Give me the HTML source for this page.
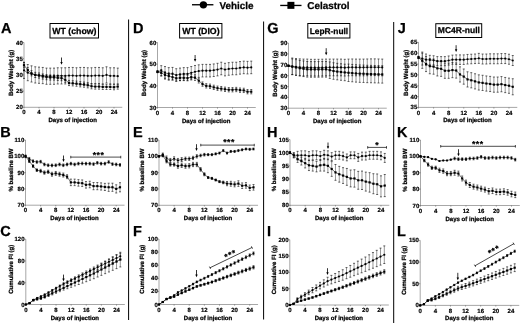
<!DOCTYPE html>
<html lang="en"><head><meta charset="utf-8"><title>Celastrol body weight and food intake</title>
<style>html,body{margin:0;padding:0;background:#fff}body{width:520px;height:323px;overflow:hidden}svg{display:block}</style>
</head><body>
<svg width="520" height="323" viewBox="0 0 520 323" font-family="'Liberation Sans', Arial, sans-serif" font-weight="bold" fill="#000" text-rendering="geometricPrecision">
<style>text{stroke:#000;stroke-width:0.25px;stroke-linejoin:round}.t text{stroke-width:0.18px}</style>
<rect width="520" height="323" fill="#fff"/>
<g stroke="#000" stroke-width="1.35"><line x1="192" y1="4.75" x2="213.4" y2="4.75"/><line x1="280.2" y1="5.45" x2="301.5" y2="5.45"/></g>
<circle cx="203.4" cy="4.85" r="3.7"/>
<rect x="287.4" y="1.85" width="7" height="7"/>
<text x="219.4" y="8.9" font-size="9.9">Vehicle</text>
<text x="307.3" y="9.1" font-size="9.9">Celastrol</text>
<g stroke="#000" stroke-width="1">
<line x1="128.6" y1="19.5" x2="128.6" y2="320"/>
<line x1="263.6" y1="21.5" x2="263.6" y2="319.5"/>
<line x1="393.7" y1="22" x2="393.7" y2="323"/>
</g>
<rect x="50" y="23.5" width="48.5" height="14.5" fill="#fff" stroke="#000" stroke-width="1"/>
<text x="74.35" y="33.6" font-size="8.75" text-anchor="middle">WT (chow)</text>
<rect x="179.6" y="23.5" width="42.3" height="14.5" fill="#fff" stroke="#000" stroke-width="1"/>
<text x="200.85" y="33.6" font-size="8.75" text-anchor="middle">WT (DIO)</text>
<rect x="307.8" y="23.5" width="42.1" height="14.5" fill="#fff" stroke="#000" stroke-width="1"/>
<text x="328.95" y="33.6" font-size="8.35" text-anchor="middle">LepR-null</text>
<rect x="435.8" y="23.7" width="45.9" height="13.8" fill="#fff" stroke="#000" stroke-width="1"/>
<text x="458.85" y="33.45" font-size="8.5" text-anchor="middle">MC4R-null</text>
<g id="panel-A">
<text x="1" y="33" font-size="14.5">A</text>
<path d="M24 42.5V107.3H122.25M24 107.3h-1.3M24 91.1h-1.3M24 74.9h-1.3M24 58.7h-1.3M24 42.5h-1.3M24 107.3v1.2M39 107.3v1.2M54 107.3v1.2M69 107.3v1.2M84 107.3v1.2M99 107.3v1.2M114 107.3v1.2" fill="none" stroke="#222" stroke-width="0.4"/>
<g class="t" font-size="6">
<text x="22.75" y="109.35" text-anchor="end">20</text>
<text x="22.75" y="93.15" text-anchor="end">25</text>
<text x="22.75" y="76.95" text-anchor="end">30</text>
<text x="22.75" y="60.75" text-anchor="end">35</text>
<text x="22.75" y="44.55" text-anchor="end">40</text>
<text x="24" y="114.4" text-anchor="middle">0</text>
<text x="39" y="114.4" text-anchor="middle">4</text>
<text x="54" y="114.4" text-anchor="middle">8</text>
<text x="69" y="114.4" text-anchor="middle">12</text>
<text x="84" y="114.4" text-anchor="middle">16</text>
<text x="99" y="114.4" text-anchor="middle">20</text>
<text x="114" y="114.4" text-anchor="middle">24</text>
</g>
<text x="72.67" y="122.3" font-size="6.05" text-anchor="middle">Days of injection</text>
<text transform="translate(12.9 72.9) rotate(-90)" font-size="6.05" text-anchor="middle">Body Weight (g)</text>
<path d="M24 62.26V78.46M27.75 64.53V80.73M31.5 65.83V82.03M35.25 66.8V83M39 67.12V83.32M42.75 67.45V83.65M46.5 68.1V84.3M50.25 68.1V84.3M54 68.1V84.3M57.75 67.77V83.97M61.5 67.77V83.97M65.25 67.77V83.97M69 67.45V83.65M72.75 67.45V83.65M76.5 67.77V83.97M80.25 67.45V83.65M84 67.45V83.65M87.75 67.77V83.97M91.5 67.77V83.97M95.25 67.45V83.65M99 67.45V83.65M102.75 67.77V83.97M106.5 66.8V83M110.25 67.77V83.97M114 67.77V83.97M117.75 68.1V84.3M24 62.59V67.77M27.75 67.45V72.63M31.5 70.69V75.87M35.25 72.31V77.49M39 72.96V78.14M42.75 73.93V79.11M46.5 74.58V79.76M50.25 74.9V80.08M54 74.9V80.08M57.75 75.22V80.41M61.5 75.55V80.73M65.25 77.17V82.35M69 80.41V85.59M72.75 80.73V85.92M76.5 81.06V86.24M80.25 81.7V86.89M84 82.03V87.21M87.75 82.68V87.86M91.5 83.65V88.83M95.25 83.97V89.16M99 83.97V89.16M102.75 84.3V89.48M106.5 84.3V89.48M110.25 84.3V89.48M114 84.62V89.8M117.75 83.97V89.16" fill="none" stroke="#000" stroke-width="0.42"/>
<path d="M23 62.26h2M23 78.46h2M26.75 64.53h2M26.75 80.73h2M30.5 65.83h2M30.5 82.03h2M34.25 66.8h2M34.25 83h2M38 67.12h2M38 83.32h2M41.75 67.45h2M41.75 83.65h2M45.5 68.1h2M45.5 84.3h2M49.25 68.1h2M49.25 84.3h2M53 68.1h2M53 84.3h2M56.75 67.77h2M56.75 83.97h2M60.5 67.77h2M60.5 83.97h2M64.25 67.77h2M64.25 83.97h2M68 67.45h2M68 83.65h2M71.75 67.45h2M71.75 83.65h2M75.5 67.77h2M75.5 83.97h2M79.25 67.45h2M79.25 83.65h2M83 67.45h2M83 83.65h2M86.75 67.77h2M86.75 83.97h2M90.5 67.77h2M90.5 83.97h2M94.25 67.45h2M94.25 83.65h2M98 67.45h2M98 83.65h2M101.75 67.77h2M101.75 83.97h2M105.5 66.8h2M105.5 83h2M109.25 67.77h2M109.25 83.97h2M113 67.77h2M113 83.97h2M116.75 68.1h2M116.75 84.3h2M23 62.59h2M23 67.77h2M26.75 67.45h2M26.75 72.63h2M30.5 70.69h2M30.5 75.87h2M34.25 72.31h2M34.25 77.49h2M38 72.96h2M38 78.14h2M41.75 73.93h2M41.75 79.11h2M45.5 74.58h2M45.5 79.76h2M49.25 74.9h2M49.25 80.08h2M53 74.9h2M53 80.08h2M56.75 75.22h2M56.75 80.41h2M60.5 75.55h2M60.5 80.73h2M64.25 77.17h2M64.25 82.35h2M68 80.41h2M68 85.59h2M71.75 80.73h2M71.75 85.92h2M75.5 81.06h2M75.5 86.24h2M79.25 81.7h2M79.25 86.89h2M83 82.03h2M83 87.21h2M86.75 82.68h2M86.75 87.86h2M90.5 83.65h2M90.5 88.83h2M94.25 83.97h2M94.25 89.16h2M98 83.97h2M98 89.16h2M101.75 84.3h2M101.75 89.48h2M105.5 84.3h2M105.5 89.48h2M109.25 84.3h2M109.25 89.48h2M113 84.62h2M113 89.8h2M116.75 83.97h2M116.75 89.16h2" fill="none" stroke="#000" stroke-width="0.6"/>
<polyline points="24,70.36 27.75,72.63 31.5,73.93 35.25,74.9 39,75.22 42.75,75.55 46.5,76.2 50.25,76.2 54,76.2 57.75,75.87 61.5,75.87 65.25,75.87 69,75.55 72.75,75.55 76.5,75.87 80.25,75.55 84,75.55 87.75,75.87 91.5,75.87 95.25,75.55 99,75.55 102.75,75.87 106.5,74.9 110.25,75.87 114,75.87 117.75,76.2" fill="none" stroke="#000" stroke-width="0.55"/>
<polyline points="24,65.18 27.75,70.04 31.5,73.28 35.25,74.9 39,75.55 42.75,76.52 46.5,77.17 50.25,77.49 54,77.49 57.75,77.82 61.5,78.14 65.25,79.76 69,83 72.75,83.32 76.5,83.65 80.25,84.3 84,84.62 87.75,85.27 91.5,86.24 95.25,86.56 99,86.56 102.75,86.89 106.5,86.89 110.25,86.89 114,87.21 117.75,86.56" fill="none" stroke="#000" stroke-width="0.55"/>
<circle cx="24" cy="70.36" r="1.08"/><circle cx="27.75" cy="72.63" r="1.08"/><circle cx="31.5" cy="73.93" r="1.08"/><circle cx="35.25" cy="74.9" r="1.08"/><circle cx="39" cy="75.22" r="1.08"/><circle cx="42.75" cy="75.55" r="1.08"/><circle cx="46.5" cy="76.2" r="1.08"/><circle cx="50.25" cy="76.2" r="1.08"/><circle cx="54" cy="76.2" r="1.08"/><circle cx="57.75" cy="75.87" r="1.08"/><circle cx="61.5" cy="75.87" r="1.08"/><circle cx="65.25" cy="75.87" r="1.08"/><circle cx="69" cy="75.55" r="1.08"/><circle cx="72.75" cy="75.55" r="1.08"/><circle cx="76.5" cy="75.87" r="1.08"/><circle cx="80.25" cy="75.55" r="1.08"/><circle cx="84" cy="75.55" r="1.08"/><circle cx="87.75" cy="75.87" r="1.08"/><circle cx="91.5" cy="75.87" r="1.08"/><circle cx="95.25" cy="75.55" r="1.08"/><circle cx="99" cy="75.55" r="1.08"/><circle cx="102.75" cy="75.87" r="1.08"/><circle cx="106.5" cy="74.9" r="1.08"/><circle cx="110.25" cy="75.87" r="1.08"/><circle cx="114" cy="75.87" r="1.08"/><circle cx="117.75" cy="76.2" r="1.08"/><rect x="22.93" y="64.11" width="2.15" height="2.15"/><rect x="26.68" y="68.96" width="2.15" height="2.15"/><rect x="30.43" y="72.2" width="2.15" height="2.15"/><rect x="34.17" y="73.83" width="2.15" height="2.15"/><rect x="37.92" y="74.47" width="2.15" height="2.15"/><rect x="41.67" y="75.44" width="2.15" height="2.15"/><rect x="45.42" y="76.09" width="2.15" height="2.15"/><rect x="49.17" y="76.42" width="2.15" height="2.15"/><rect x="52.92" y="76.42" width="2.15" height="2.15"/><rect x="56.67" y="76.74" width="2.15" height="2.15"/><rect x="60.42" y="77.06" width="2.15" height="2.15"/><rect x="64.17" y="78.68" width="2.15" height="2.15"/><rect x="67.92" y="81.92" width="2.15" height="2.15"/><rect x="71.67" y="82.25" width="2.15" height="2.15"/><rect x="75.42" y="82.57" width="2.15" height="2.15"/><rect x="79.17" y="83.22" width="2.15" height="2.15"/><rect x="82.92" y="83.55" width="2.15" height="2.15"/><rect x="86.67" y="84.19" width="2.15" height="2.15"/><rect x="90.42" y="85.16" width="2.15" height="2.15"/><rect x="94.17" y="85.49" width="2.15" height="2.15"/><rect x="97.92" y="85.49" width="2.15" height="2.15"/><rect x="101.67" y="85.81" width="2.15" height="2.15"/><rect x="105.42" y="85.81" width="2.15" height="2.15"/><rect x="109.17" y="85.81" width="2.15" height="2.15"/><rect x="112.92" y="86.14" width="2.15" height="2.15"/><rect x="116.67" y="85.49" width="2.15" height="2.15"/>
<path d="M61.5 57.5V63.2" stroke="#000" stroke-width="0.8" fill="none"/>
<path d="M60.3 61.9h2.4l-1.2 2.8z"/>
</g>
<g id="panel-B">
<text x="0.2" y="137" font-size="14.5">B</text>
<path d="M25.5 140V205.2H124.54M25.5 205.2h-1.3M25.5 188.9h-1.3M25.5 172.6h-1.3M25.5 156.3h-1.3M25.5 140h-1.3M25.5 205.2v1.2M40.62 205.2v1.2M55.74 205.2v1.2M70.86 205.2v1.2M85.98 205.2v1.2M101.1 205.2v1.2M116.22 205.2v1.2" fill="none" stroke="#222" stroke-width="0.4"/>
<g class="t" font-size="6">
<text x="24.25" y="207.25" text-anchor="end">70</text>
<text x="24.25" y="190.95" text-anchor="end">80</text>
<text x="24.25" y="174.65" text-anchor="end">90</text>
<text x="24.25" y="158.35" text-anchor="end">100</text>
<text x="24.25" y="142.05" text-anchor="end">110</text>
<text x="25.5" y="212.3" text-anchor="middle">0</text>
<text x="40.62" y="212.3" text-anchor="middle">4</text>
<text x="55.74" y="212.3" text-anchor="middle">8</text>
<text x="70.86" y="212.3" text-anchor="middle">12</text>
<text x="85.98" y="212.3" text-anchor="middle">16</text>
<text x="101.1" y="212.3" text-anchor="middle">20</text>
<text x="116.22" y="212.3" text-anchor="middle">24</text>
</g>
<text x="74.55" y="220.2" font-size="6.05" text-anchor="middle">Days of injection</text>
<text transform="translate(12.9 170) rotate(-90)" font-size="6.05" text-anchor="middle">% baseline BW</text>
<path d="M25.5 155V157.6M29.28 157.44V160.05M33.06 159.89V162.49M36.84 160.7V163.31M40.62 160.38V162.98M44.4 163.15V165.75M48.18 163.96V166.57M51.96 164.12V166.73M55.74 163.96V166.57M59.52 163.15V165.75M63.3 163.96V166.57M67.08 163.15V165.75M70.86 162.33V164.94M74.64 163.15V165.75M78.42 162.33V164.94M82.2 162.17V164.78M85.98 162.33V164.94M89.76 162.33V164.94M93.54 162.82V165.43M97.32 161.52V164.12M101.1 162.33V164.94M104.88 162.33V164.94M108.66 160.7V163.31M112.44 162.82V165.43M116.22 163.15V165.75M120 163.63V166.24M25.5 155.49V157.12M29.28 159.89V162.49M33.06 164.78V167.38M36.84 168.85V171.46M40.62 169.34V172.6M44.4 170.97V174.23M48.18 170.16V173.41M51.96 172.27V176.19M55.74 171.46V175.37M59.52 172.27V176.19M63.3 173.09V177M67.08 174.72V178.63M70.86 179.12V185.64M74.64 179.12V185.64M78.42 179.61V186.13M82.2 179.94V186.45M85.98 181.56V188.08M89.76 181.24V187.76M93.54 182.54V189.72M97.32 182.54V189.72M101.1 182.87V190.04M104.88 183.36V190.53M108.66 183.19V191.34M112.44 183.19V191.34M116.22 184.82V192.97M120 182.71V191.83" fill="none" stroke="#000" stroke-width="0.42"/>
<path d="M24.5 155h2M24.5 157.6h2M28.28 157.44h2M28.28 160.05h2M32.06 159.89h2M32.06 162.49h2M35.84 160.7h2M35.84 163.31h2M39.62 160.38h2M39.62 162.98h2M43.4 163.15h2M43.4 165.75h2M47.18 163.96h2M47.18 166.57h2M50.96 164.12h2M50.96 166.73h2M54.74 163.96h2M54.74 166.57h2M58.52 163.15h2M58.52 165.75h2M62.3 163.96h2M62.3 166.57h2M66.08 163.15h2M66.08 165.75h2M69.86 162.33h2M69.86 164.94h2M73.64 163.15h2M73.64 165.75h2M77.42 162.33h2M77.42 164.94h2M81.2 162.17h2M81.2 164.78h2M84.98 162.33h2M84.98 164.94h2M88.76 162.33h2M88.76 164.94h2M92.54 162.82h2M92.54 165.43h2M96.32 161.52h2M96.32 164.12h2M100.1 162.33h2M100.1 164.94h2M103.88 162.33h2M103.88 164.94h2M107.66 160.7h2M107.66 163.31h2M111.44 162.82h2M111.44 165.43h2M115.22 163.15h2M115.22 165.75h2M119 163.63h2M119 166.24h2M24.5 155.49h2M24.5 157.12h2M28.28 159.89h2M28.28 162.49h2M32.06 164.78h2M32.06 167.38h2M35.84 168.85h2M35.84 171.46h2M39.62 169.34h2M39.62 172.6h2M43.4 170.97h2M43.4 174.23h2M47.18 170.16h2M47.18 173.41h2M50.96 172.27h2M50.96 176.19h2M54.74 171.46h2M54.74 175.37h2M58.52 172.27h2M58.52 176.19h2M62.3 173.09h2M62.3 177h2M66.08 174.72h2M66.08 178.63h2M69.86 179.12h2M69.86 185.64h2M73.64 179.12h2M73.64 185.64h2M77.42 179.61h2M77.42 186.13h2M81.2 179.94h2M81.2 186.45h2M84.98 181.56h2M84.98 188.08h2M88.76 181.24h2M88.76 187.76h2M92.54 182.54h2M92.54 189.72h2M96.32 182.54h2M96.32 189.72h2M100.1 182.87h2M100.1 190.04h2M103.88 183.36h2M103.88 190.53h2M107.66 183.19h2M107.66 191.34h2M111.44 183.19h2M111.44 191.34h2M115.22 184.82h2M115.22 192.97h2M119 182.71h2M119 191.83h2" fill="none" stroke="#000" stroke-width="0.6"/>
<polyline points="25.5,156.3 29.28,158.75 33.06,161.19 36.84,162 40.62,161.68 44.4,164.45 48.18,165.26 51.96,165.43 55.74,165.26 59.52,164.45 63.3,165.26 67.08,164.45 70.86,163.63 74.64,164.45 78.42,163.63 82.2,163.47 85.98,163.63 89.76,163.63 93.54,164.12 97.32,162.82 101.1,163.63 104.88,163.63 108.66,162 112.44,164.12 116.22,164.45 120,164.94" fill="none" stroke="#000" stroke-width="0.55"/>
<polyline points="25.5,156.3 29.28,161.19 33.06,166.08 36.84,170.16 40.62,170.97 44.4,172.6 48.18,171.78 51.96,174.23 55.74,173.41 59.52,174.23 63.3,175.04 67.08,176.67 70.86,182.38 74.64,182.38 78.42,182.87 82.2,183.19 85.98,184.82 89.76,184.5 93.54,186.13 97.32,186.13 101.1,186.45 104.88,186.94 108.66,187.27 112.44,187.27 116.22,188.9 120,187.27" fill="none" stroke="#000" stroke-width="0.55"/>
<circle cx="25.5" cy="156.3" r="1.08"/><circle cx="29.28" cy="158.75" r="1.08"/><circle cx="33.06" cy="161.19" r="1.08"/><circle cx="36.84" cy="162" r="1.08"/><circle cx="40.62" cy="161.68" r="1.08"/><circle cx="44.4" cy="164.45" r="1.08"/><circle cx="48.18" cy="165.26" r="1.08"/><circle cx="51.96" cy="165.43" r="1.08"/><circle cx="55.74" cy="165.26" r="1.08"/><circle cx="59.52" cy="164.45" r="1.08"/><circle cx="63.3" cy="165.26" r="1.08"/><circle cx="67.08" cy="164.45" r="1.08"/><circle cx="70.86" cy="163.63" r="1.08"/><circle cx="74.64" cy="164.45" r="1.08"/><circle cx="78.42" cy="163.63" r="1.08"/><circle cx="82.2" cy="163.47" r="1.08"/><circle cx="85.98" cy="163.63" r="1.08"/><circle cx="89.76" cy="163.63" r="1.08"/><circle cx="93.54" cy="164.12" r="1.08"/><circle cx="97.32" cy="162.82" r="1.08"/><circle cx="101.1" cy="163.63" r="1.08"/><circle cx="104.88" cy="163.63" r="1.08"/><circle cx="108.66" cy="162" r="1.08"/><circle cx="112.44" cy="164.12" r="1.08"/><circle cx="116.22" cy="164.45" r="1.08"/><circle cx="120" cy="164.94" r="1.08"/><rect x="24.43" y="155.23" width="2.15" height="2.15"/><rect x="28.21" y="160.12" width="2.15" height="2.15"/><rect x="31.99" y="165" width="2.15" height="2.15"/><rect x="35.77" y="169.08" width="2.15" height="2.15"/><rect x="39.54" y="169.9" width="2.15" height="2.15"/><rect x="43.32" y="171.53" width="2.15" height="2.15"/><rect x="47.1" y="170.71" width="2.15" height="2.15"/><rect x="50.88" y="173.16" width="2.15" height="2.15"/><rect x="54.66" y="172.34" width="2.15" height="2.15"/><rect x="58.44" y="173.16" width="2.15" height="2.15"/><rect x="62.22" y="173.97" width="2.15" height="2.15"/><rect x="66" y="175.6" width="2.15" height="2.15"/><rect x="69.78" y="181.31" width="2.15" height="2.15"/><rect x="73.56" y="181.31" width="2.15" height="2.15"/><rect x="77.34" y="181.79" width="2.15" height="2.15"/><rect x="81.12" y="182.12" width="2.15" height="2.15"/><rect x="84.9" y="183.75" width="2.15" height="2.15"/><rect x="88.68" y="183.42" width="2.15" height="2.15"/><rect x="92.46" y="185.05" width="2.15" height="2.15"/><rect x="96.24" y="185.05" width="2.15" height="2.15"/><rect x="100.02" y="185.38" width="2.15" height="2.15"/><rect x="103.8" y="185.87" width="2.15" height="2.15"/><rect x="107.58" y="186.19" width="2.15" height="2.15"/><rect x="111.36" y="186.19" width="2.15" height="2.15"/><rect x="115.14" y="187.82" width="2.15" height="2.15"/><rect x="118.92" y="186.19" width="2.15" height="2.15"/>
<path d="M63.5 155.5V160.5" stroke="#000" stroke-width="0.8" fill="none"/>
<path d="M62.3 159.2h2.4l-1.2 2.8z"/>
<path d="M70.75 157.1H120.75M70.75 155.8v2.6M120.75 155.8v2.6" stroke="#000" stroke-width="0.7" fill="none"/>
<text x="98.5" y="157.77" font-size="8.6" letter-spacing="0.5" text-anchor="middle">***</text>
</g>
<g id="panel-C">
<text x="0.3" y="236.2" font-size="14.5">C</text>
<path d="M25.8 239.2V304.5H124.84M25.8 304.5h-1.3M25.8 282.73h-1.3M25.8 260.97h-1.3M25.8 239.2h-1.3M25.8 304.5v1.2M40.92 304.5v1.2M56.04 304.5v1.2M71.16 304.5v1.2M86.28 304.5v1.2M101.4 304.5v1.2M116.52 304.5v1.2" fill="none" stroke="#222" stroke-width="0.4"/>
<g class="t" font-size="6">
<text x="24.55" y="306.55" text-anchor="end">0</text>
<text x="24.55" y="284.78" text-anchor="end">40</text>
<text x="24.55" y="263.02" text-anchor="end">80</text>
<text x="24.55" y="241.25" text-anchor="end">120</text>
<text x="25.8" y="311.6" text-anchor="middle">0</text>
<text x="40.92" y="311.6" text-anchor="middle">4</text>
<text x="56.04" y="311.6" text-anchor="middle">8</text>
<text x="71.16" y="311.6" text-anchor="middle">12</text>
<text x="86.28" y="311.6" text-anchor="middle">16</text>
<text x="101.4" y="311.6" text-anchor="middle">20</text>
<text x="116.52" y="311.6" text-anchor="middle">24</text>
</g>
<text x="74.85" y="319.5" font-size="6.05" text-anchor="middle">Days of injection</text>
<text transform="translate(12.9 269.25) rotate(-90)" font-size="6.05" text-anchor="middle">Cumulative FI (g)</text>
<path d="M29.58 302.87V303.3M33.36 299.44V300.31M37.14 297.45V298.49M40.92 295.85V297.04M44.7 294.02V295.39M48.48 291.77V293.29M52.26 289.51V291.2M56.04 287.25V289.1M59.82 284.99V287.01M63.6 282.73V284.91M67.38 280.77V283.2M71.16 278.8V281.49M74.94 276.83V279.77M78.72 274.87V278.06M82.5 272.9V276.35M86.28 270.94V274.64M90.06 268.97V272.92M93.84 267V271.21M97.62 265.04V269.5M101.4 263.07V267.79M105.18 261.1V266.07M108.96 259.14V264.36M112.74 257.17V262.65M116.52 255.21V260.94M120.3 253.24V259.23M29.58 302.81V303.36M33.36 299.6V300.91M37.14 298.32V300.01M40.92 297.26V299.33M44.7 295.66V298.11M48.48 293.67V296.5M52.26 291.68V294.9M56.04 289.7V293.29M59.82 287.71V291.68M63.6 285.73V290.08M67.38 283.52V288.69M71.16 281.3V287.29M74.94 279.09V285.9M78.72 276.88V284.5M82.5 274.67V283.11M86.28 272.46V281.71M90.06 270.36V280.21M93.84 268.25V278.71M97.62 265.97V277.03M101.4 263.68V275.35M105.18 261.4V273.67M108.96 259.11V271.99M112.74 256.83V270.31M116.52 254.54V268.63M120.3 252.26V266.95" fill="none" stroke="#000" stroke-width="0.42"/>
<path d="M28.58 302.87h2M28.58 303.3h2M32.36 299.44h2M32.36 300.31h2M36.14 297.45h2M36.14 298.49h2M39.92 295.85h2M39.92 297.04h2M43.7 294.02h2M43.7 295.39h2M47.48 291.77h2M47.48 293.29h2M51.26 289.51h2M51.26 291.2h2M55.04 287.25h2M55.04 289.1h2M58.82 284.99h2M58.82 287.01h2M62.6 282.73h2M62.6 284.91h2M66.38 280.77h2M66.38 283.2h2M70.16 278.8h2M70.16 281.49h2M73.94 276.83h2M73.94 279.77h2M77.72 274.87h2M77.72 278.06h2M81.5 272.9h2M81.5 276.35h2M85.28 270.94h2M85.28 274.64h2M89.06 268.97h2M89.06 272.92h2M92.84 267h2M92.84 271.21h2M96.62 265.04h2M96.62 269.5h2M100.4 263.07h2M100.4 267.79h2M104.18 261.1h2M104.18 266.07h2M107.96 259.14h2M107.96 264.36h2M111.74 257.17h2M111.74 262.65h2M115.52 255.21h2M115.52 260.94h2M119.3 253.24h2M119.3 259.23h2M28.58 302.81h2M28.58 303.36h2M32.36 299.6h2M32.36 300.91h2M36.14 298.32h2M36.14 300.01h2M39.92 297.26h2M39.92 299.33h2M43.7 295.66h2M43.7 298.11h2M47.48 293.67h2M47.48 296.5h2M51.26 291.68h2M51.26 294.9h2M55.04 289.7h2M55.04 293.29h2M58.82 287.71h2M58.82 291.68h2M62.6 285.73h2M62.6 290.08h2M66.38 283.52h2M66.38 288.69h2M70.16 281.3h2M70.16 287.29h2M73.94 279.09h2M73.94 285.9h2M77.72 276.88h2M77.72 284.5h2M81.5 274.67h2M81.5 283.11h2M85.28 272.46h2M85.28 281.71h2M89.06 270.36h2M89.06 280.21h2M92.84 268.25h2M92.84 278.71h2M96.62 265.97h2M96.62 277.03h2M100.4 263.68h2M100.4 275.35h2M104.18 261.4h2M104.18 273.67h2M107.96 259.11h2M107.96 271.99h2M111.74 256.83h2M111.74 270.31h2M115.52 254.54h2M115.52 268.63h2M119.3 252.26h2M119.3 266.95h2" fill="none" stroke="#000" stroke-width="0.6"/>
<polyline points="25.8,304.5 29.58,303.09 33.36,299.87 37.14,297.97 40.92,296.45 44.7,294.7 48.48,292.53 52.26,290.35 56.04,288.18 59.82,286 63.6,283.82 67.38,281.98 71.16,280.14 74.94,278.3 78.72,276.46 82.5,274.63 86.28,272.79 90.06,270.95 93.84,269.11 97.62,267.27 101.4,265.43 105.18,263.59 108.96,261.75 112.74,259.91 116.52,258.07 120.3,256.23" fill="none" stroke="#000" stroke-width="0.55"/>
<polyline points="25.8,304.5 29.58,303.09 33.36,300.26 37.14,299.17 40.92,298.3 44.7,296.88 48.48,295.09 52.26,293.29 56.04,291.49 59.82,289.7 63.6,287.9 67.38,286.1 71.16,284.3 74.94,282.5 78.72,280.69 82.5,278.89 86.28,277.09 90.06,275.29 93.84,273.48 97.62,271.5 101.4,269.52 105.18,267.54 108.96,265.55 112.74,263.57 116.52,261.59 120.3,259.61" fill="none" stroke="#000" stroke-width="0.55"/>
<circle cx="25.8" cy="304.5" r="1.08"/><circle cx="29.58" cy="303.09" r="1.08"/><circle cx="33.36" cy="299.87" r="1.08"/><circle cx="37.14" cy="297.97" r="1.08"/><circle cx="40.92" cy="296.45" r="1.08"/><circle cx="44.7" cy="294.7" r="1.08"/><circle cx="48.48" cy="292.53" r="1.08"/><circle cx="52.26" cy="290.35" r="1.08"/><circle cx="56.04" cy="288.18" r="1.08"/><circle cx="59.82" cy="286" r="1.08"/><circle cx="63.6" cy="283.82" r="1.08"/><circle cx="67.38" cy="281.98" r="1.08"/><circle cx="71.16" cy="280.14" r="1.08"/><circle cx="74.94" cy="278.3" r="1.08"/><circle cx="78.72" cy="276.46" r="1.08"/><circle cx="82.5" cy="274.63" r="1.08"/><circle cx="86.28" cy="272.79" r="1.08"/><circle cx="90.06" cy="270.95" r="1.08"/><circle cx="93.84" cy="269.11" r="1.08"/><circle cx="97.62" cy="267.27" r="1.08"/><circle cx="101.4" cy="265.43" r="1.08"/><circle cx="105.18" cy="263.59" r="1.08"/><circle cx="108.96" cy="261.75" r="1.08"/><circle cx="112.74" cy="259.91" r="1.08"/><circle cx="116.52" cy="258.07" r="1.08"/><circle cx="120.3" cy="256.23" r="1.08"/><rect x="24.73" y="303.43" width="2.15" height="2.15"/><rect x="28.51" y="302.01" width="2.15" height="2.15"/><rect x="32.28" y="299.18" width="2.15" height="2.15"/><rect x="36.06" y="298.09" width="2.15" height="2.15"/><rect x="39.84" y="297.22" width="2.15" height="2.15"/><rect x="43.62" y="295.81" width="2.15" height="2.15"/><rect x="47.41" y="294.01" width="2.15" height="2.15"/><rect x="51.18" y="292.22" width="2.15" height="2.15"/><rect x="54.96" y="290.42" width="2.15" height="2.15"/><rect x="58.74" y="288.62" width="2.15" height="2.15"/><rect x="62.52" y="286.83" width="2.15" height="2.15"/><rect x="66.3" y="285.03" width="2.15" height="2.15"/><rect x="70.08" y="283.22" width="2.15" height="2.15"/><rect x="73.86" y="281.42" width="2.15" height="2.15"/><rect x="77.64" y="279.62" width="2.15" height="2.15"/><rect x="81.42" y="277.82" width="2.15" height="2.15"/><rect x="85.2" y="276.01" width="2.15" height="2.15"/><rect x="88.98" y="274.21" width="2.15" height="2.15"/><rect x="92.76" y="272.41" width="2.15" height="2.15"/><rect x="96.54" y="270.43" width="2.15" height="2.15"/><rect x="100.32" y="268.44" width="2.15" height="2.15"/><rect x="104.1" y="266.46" width="2.15" height="2.15"/><rect x="107.88" y="264.48" width="2.15" height="2.15"/><rect x="111.66" y="262.5" width="2.15" height="2.15"/><rect x="115.44" y="260.51" width="2.15" height="2.15"/><rect x="119.22" y="258.53" width="2.15" height="2.15"/>
<path d="M63.5 274.6V279.9" stroke="#000" stroke-width="0.8" fill="none"/>
<path d="M62.3 278.6h2.4l-1.2 2.8z"/>
</g>
<g id="panel-D">
<text x="133" y="33" font-size="14.5">D</text>
<path d="M157.5 42.5V107.5H255.75M157.5 107.5h-1.3M157.5 85.83h-1.3M157.5 64.17h-1.3M157.5 42.5h-1.3M157.5 107.5v1.2M172.5 107.5v1.2M187.5 107.5v1.2M202.5 107.5v1.2M217.5 107.5v1.2M232.5 107.5v1.2M247.5 107.5v1.2" fill="none" stroke="#222" stroke-width="0.4"/>
<g class="t" font-size="6">
<text x="156.25" y="109.55" text-anchor="end">30</text>
<text x="156.25" y="87.88" text-anchor="end">40</text>
<text x="156.25" y="66.22" text-anchor="end">50</text>
<text x="156.25" y="44.55" text-anchor="end">60</text>
<text x="157.5" y="114.6" text-anchor="middle">0</text>
<text x="172.5" y="114.6" text-anchor="middle">4</text>
<text x="187.5" y="114.6" text-anchor="middle">8</text>
<text x="202.5" y="114.6" text-anchor="middle">12</text>
<text x="217.5" y="114.6" text-anchor="middle">16</text>
<text x="232.5" y="114.6" text-anchor="middle">20</text>
<text x="247.5" y="114.6" text-anchor="middle">24</text>
</g>
<text x="206.18" y="122.5" font-size="6.05" text-anchor="middle">Days of injection</text>
<text transform="translate(145.9 73) rotate(-90)" font-size="6.05" text-anchor="middle">Body Weight (g)</text>
<path d="M157.5 70.88V72.62M161.25 65.68V75.65M165 66.55V79.12M168.75 67.63V80.2M172.5 67.42V79.98M176.25 68.72V81.28M180 68.07V80.63M183.75 67.63V80.2M187.5 67.63V80.2M191.25 66.55V79.12M195 65.47V78.03M198.75 64.82V77.38M202.5 64.38V76.95M206.25 64.38V76.95M210 64.38V76.95M213.75 63.95V76.52M217.5 63.3V75.87M221.25 62.22V74.78M225 63.3V75.87M228.75 62.65V75.22M232.5 62.22V74.78M236.25 62.22V74.78M240 61.57V74.13M243.75 61.13V73.7M247.5 61.35V73.92M251.25 61.13V73.7M157.5 70.88V72.62M161.25 69.58V76.08M165 71.75V78.25M168.75 72.83V79.33M172.5 74.35V79.98M176.25 75.43V81.07M180 75V80.63M183.75 75V80.63M187.5 75.22V80.85M191.25 74.35V79.98M195 74.78V80.42M198.75 78.25V83.02M202.5 81.93V86.27M206.25 83.67V88M210 84.1V88.43M213.75 85.18V89.52M217.5 86.05V90.38M221.25 86.48V90.82M225 87.13V91.47M228.75 87.57V91.9M232.5 87.57V91.9M236.25 87.35V91.68M240 88V92.33M243.75 88.22V92.55M247.5 89.52V93.85M251.25 89.52V93.85" fill="none" stroke="#000" stroke-width="0.42"/>
<path d="M156.5 70.88h2M156.5 72.62h2M160.25 65.68h2M160.25 75.65h2M164 66.55h2M164 79.12h2M167.75 67.63h2M167.75 80.2h2M171.5 67.42h2M171.5 79.98h2M175.25 68.72h2M175.25 81.28h2M179 68.07h2M179 80.63h2M182.75 67.63h2M182.75 80.2h2M186.5 67.63h2M186.5 80.2h2M190.25 66.55h2M190.25 79.12h2M194 65.47h2M194 78.03h2M197.75 64.82h2M197.75 77.38h2M201.5 64.38h2M201.5 76.95h2M205.25 64.38h2M205.25 76.95h2M209 64.38h2M209 76.95h2M212.75 63.95h2M212.75 76.52h2M216.5 63.3h2M216.5 75.87h2M220.25 62.22h2M220.25 74.78h2M224 63.3h2M224 75.87h2M227.75 62.65h2M227.75 75.22h2M231.5 62.22h2M231.5 74.78h2M235.25 62.22h2M235.25 74.78h2M239 61.57h2M239 74.13h2M242.75 61.13h2M242.75 73.7h2M246.5 61.35h2M246.5 73.92h2M250.25 61.13h2M250.25 73.7h2M156.5 70.88h2M156.5 72.62h2M160.25 69.58h2M160.25 76.08h2M164 71.75h2M164 78.25h2M167.75 72.83h2M167.75 79.33h2M171.5 74.35h2M171.5 79.98h2M175.25 75.43h2M175.25 81.07h2M179 75h2M179 80.63h2M182.75 75h2M182.75 80.63h2M186.5 75.22h2M186.5 80.85h2M190.25 74.35h2M190.25 79.98h2M194 74.78h2M194 80.42h2M197.75 78.25h2M197.75 83.02h2M201.5 81.93h2M201.5 86.27h2M205.25 83.67h2M205.25 88h2M209 84.1h2M209 88.43h2M212.75 85.18h2M212.75 89.52h2M216.5 86.05h2M216.5 90.38h2M220.25 86.48h2M220.25 90.82h2M224 87.13h2M224 91.47h2M227.75 87.57h2M227.75 91.9h2M231.5 87.57h2M231.5 91.9h2M235.25 87.35h2M235.25 91.68h2M239 88h2M239 92.33h2M242.75 88.22h2M242.75 92.55h2M246.5 89.52h2M246.5 93.85h2M250.25 89.52h2M250.25 93.85h2" fill="none" stroke="#000" stroke-width="0.6"/>
<polyline points="157.5,71.75 161.25,70.67 165,72.83 168.75,73.92 172.5,73.7 176.25,75 180,74.35 183.75,73.92 187.5,73.92 191.25,72.83 195,71.75 198.75,71.1 202.5,70.67 206.25,70.67 210,70.67 213.75,70.23 217.5,69.58 221.25,68.5 225,69.58 228.75,68.93 232.5,68.5 236.25,68.5 240,67.85 243.75,67.42 247.5,67.63 251.25,67.42" fill="none" stroke="#000" stroke-width="0.55"/>
<polyline points="157.5,71.75 161.25,72.83 165,75 168.75,76.08 172.5,77.17 176.25,78.25 180,77.82 183.75,77.82 187.5,78.03 191.25,77.17 195,77.6 198.75,80.63 202.5,84.1 206.25,85.83 210,86.27 213.75,87.35 217.5,88.22 221.25,88.65 225,89.3 228.75,89.73 232.5,89.73 236.25,89.52 240,90.17 243.75,90.38 247.5,91.68 251.25,91.68" fill="none" stroke="#000" stroke-width="0.55"/>
<circle cx="157.5" cy="71.75" r="1.08"/><circle cx="161.25" cy="70.67" r="1.08"/><circle cx="165" cy="72.83" r="1.08"/><circle cx="168.75" cy="73.92" r="1.08"/><circle cx="172.5" cy="73.7" r="1.08"/><circle cx="176.25" cy="75" r="1.08"/><circle cx="180" cy="74.35" r="1.08"/><circle cx="183.75" cy="73.92" r="1.08"/><circle cx="187.5" cy="73.92" r="1.08"/><circle cx="191.25" cy="72.83" r="1.08"/><circle cx="195" cy="71.75" r="1.08"/><circle cx="198.75" cy="71.1" r="1.08"/><circle cx="202.5" cy="70.67" r="1.08"/><circle cx="206.25" cy="70.67" r="1.08"/><circle cx="210" cy="70.67" r="1.08"/><circle cx="213.75" cy="70.23" r="1.08"/><circle cx="217.5" cy="69.58" r="1.08"/><circle cx="221.25" cy="68.5" r="1.08"/><circle cx="225" cy="69.58" r="1.08"/><circle cx="228.75" cy="68.93" r="1.08"/><circle cx="232.5" cy="68.5" r="1.08"/><circle cx="236.25" cy="68.5" r="1.08"/><circle cx="240" cy="67.85" r="1.08"/><circle cx="243.75" cy="67.42" r="1.08"/><circle cx="247.5" cy="67.63" r="1.08"/><circle cx="251.25" cy="67.42" r="1.08"/><rect x="156.43" y="70.67" width="2.15" height="2.15"/><rect x="160.18" y="71.76" width="2.15" height="2.15"/><rect x="163.93" y="73.92" width="2.15" height="2.15"/><rect x="167.68" y="75.01" width="2.15" height="2.15"/><rect x="171.43" y="76.09" width="2.15" height="2.15"/><rect x="175.18" y="77.17" width="2.15" height="2.15"/><rect x="178.93" y="76.74" width="2.15" height="2.15"/><rect x="182.68" y="76.74" width="2.15" height="2.15"/><rect x="186.43" y="76.96" width="2.15" height="2.15"/><rect x="190.18" y="76.09" width="2.15" height="2.15"/><rect x="193.93" y="76.53" width="2.15" height="2.15"/><rect x="197.68" y="79.56" width="2.15" height="2.15"/><rect x="201.43" y="83.03" width="2.15" height="2.15"/><rect x="205.18" y="84.76" width="2.15" height="2.15"/><rect x="208.93" y="85.19" width="2.15" height="2.15"/><rect x="212.68" y="86.28" width="2.15" height="2.15"/><rect x="216.43" y="87.14" width="2.15" height="2.15"/><rect x="220.18" y="87.57" width="2.15" height="2.15"/><rect x="223.93" y="88.23" width="2.15" height="2.15"/><rect x="227.68" y="88.66" width="2.15" height="2.15"/><rect x="231.43" y="88.66" width="2.15" height="2.15"/><rect x="235.18" y="88.44" width="2.15" height="2.15"/><rect x="238.93" y="89.09" width="2.15" height="2.15"/><rect x="242.68" y="89.31" width="2.15" height="2.15"/><rect x="246.43" y="90.61" width="2.15" height="2.15"/><rect x="250.18" y="90.61" width="2.15" height="2.15"/>
<path d="M195.1 55V60.3" stroke="#000" stroke-width="0.8" fill="none"/>
<path d="M193.9 59h2.4l-1.2 2.8z"/>
</g>
<g id="panel-E">
<text x="133.1" y="137" font-size="14.5">E</text>
<path d="M159 140V205.3H258.04M159 205.3h-1.3M159 188.98h-1.3M159 172.65h-1.3M159 156.32h-1.3M159 140h-1.3M159 205.3v1.2M174.12 205.3v1.2M189.24 205.3v1.2M204.36 205.3v1.2M219.48 205.3v1.2M234.6 205.3v1.2M249.72 205.3v1.2" fill="none" stroke="#222" stroke-width="0.4"/>
<g class="t" font-size="6">
<text x="157.75" y="207.35" text-anchor="end">70</text>
<text x="157.75" y="191.03" text-anchor="end">80</text>
<text x="157.75" y="174.7" text-anchor="end">90</text>
<text x="157.75" y="158.38" text-anchor="end">100</text>
<text x="157.75" y="142.05" text-anchor="end">110</text>
<text x="159" y="212.4" text-anchor="middle">0</text>
<text x="174.12" y="212.4" text-anchor="middle">4</text>
<text x="189.24" y="212.4" text-anchor="middle">8</text>
<text x="204.36" y="212.4" text-anchor="middle">12</text>
<text x="219.48" y="212.4" text-anchor="middle">16</text>
<text x="234.6" y="212.4" text-anchor="middle">20</text>
<text x="249.72" y="212.4" text-anchor="middle">24</text>
</g>
<text x="208.05" y="220.3" font-size="6.05" text-anchor="middle">Days of injection</text>
<text transform="translate(143.9 170.05) rotate(-90)" font-size="6.05" text-anchor="middle">% baseline BW</text>
<path d="M159 155.84V156.81M162.78 153.06V156.32M166.56 156V159.92M170.34 158.45V162.37M174.12 156.81V160.73M177.9 158.45V162.37M181.68 157.63V161.55M185.46 157.14V160.41M189.24 157.14V160.41M193.02 156.32V159.59M196.8 154.69V157.96M200.58 154.2V156.81M204.36 153.39V156M208.14 153.71V155.67M211.92 153.71V155.67M215.7 152.9V154.86M219.48 152.08V154.04M223.26 149.63V151.59M227.04 152.08V154.04M230.82 150.45V152.41M234.6 150.45V152.41M238.38 149.63V151.59M242.16 148.82V150.77M245.94 148V149.96M249.72 148.33V150.28M253.5 148V149.96M159 155.84V156.81M162.78 154.2V156.81M166.56 159.59V162.86M170.34 162.86V166.12M174.12 162.86V166.12M177.9 164V168.24M181.68 163.18V167.43M185.46 164V168.24M189.24 163.67V167.92M193.02 162.37V166.61M196.8 162.37V166.61M200.58 167.59V171.18M204.36 172.81V175.75M208.14 176.57V178.53M211.92 177.38V179.34M215.7 179.02V180.98M219.48 180.65V182.61M223.26 181.14V183.75M227.04 181.47V185.71M230.82 181.3V186.2M234.6 181.96V186.85M238.38 180.81V186.36M242.16 182.93V188.49M245.94 182.61V188.16M249.72 185.06V190.61M253.5 184.57V190.12" fill="none" stroke="#000" stroke-width="0.42"/>
<path d="M158 155.84h2M158 156.81h2M161.78 153.06h2M161.78 156.32h2M165.56 156h2M165.56 159.92h2M169.34 158.45h2M169.34 162.37h2M173.12 156.81h2M173.12 160.73h2M176.9 158.45h2M176.9 162.37h2M180.68 157.63h2M180.68 161.55h2M184.46 157.14h2M184.46 160.41h2M188.24 157.14h2M188.24 160.41h2M192.02 156.32h2M192.02 159.59h2M195.8 154.69h2M195.8 157.96h2M199.58 154.2h2M199.58 156.81h2M203.36 153.39h2M203.36 156h2M207.14 153.71h2M207.14 155.67h2M210.92 153.71h2M210.92 155.67h2M214.7 152.9h2M214.7 154.86h2M218.48 152.08h2M218.48 154.04h2M222.26 149.63h2M222.26 151.59h2M226.04 152.08h2M226.04 154.04h2M229.82 150.45h2M229.82 152.41h2M233.6 150.45h2M233.6 152.41h2M237.38 149.63h2M237.38 151.59h2M241.16 148.82h2M241.16 150.77h2M244.94 148h2M244.94 149.96h2M248.72 148.33h2M248.72 150.28h2M252.5 148h2M252.5 149.96h2M158 155.84h2M158 156.81h2M161.78 154.2h2M161.78 156.81h2M165.56 159.59h2M165.56 162.86h2M169.34 162.86h2M169.34 166.12h2M173.12 162.86h2M173.12 166.12h2M176.9 164h2M176.9 168.24h2M180.68 163.18h2M180.68 167.43h2M184.46 164h2M184.46 168.24h2M188.24 163.67h2M188.24 167.92h2M192.02 162.37h2M192.02 166.61h2M195.8 162.37h2M195.8 166.61h2M199.58 167.59h2M199.58 171.18h2M203.36 172.81h2M203.36 175.75h2M207.14 176.57h2M207.14 178.53h2M210.92 177.38h2M210.92 179.34h2M214.7 179.02h2M214.7 180.98h2M218.48 180.65h2M218.48 182.61h2M222.26 181.14h2M222.26 183.75h2M226.04 181.47h2M226.04 185.71h2M229.82 181.3h2M229.82 186.2h2M233.6 181.96h2M233.6 186.85h2M237.38 180.81h2M237.38 186.36h2M241.16 182.93h2M241.16 188.49h2M244.94 182.61h2M244.94 188.16h2M248.72 185.06h2M248.72 190.61h2M252.5 184.57h2M252.5 190.12h2" fill="none" stroke="#000" stroke-width="0.6"/>
<polyline points="159,156.32 162.78,154.69 166.56,157.96 170.34,160.41 174.12,158.77 177.9,160.41 181.68,159.59 185.46,158.77 189.24,158.77 193.02,157.96 196.8,156.32 200.58,155.51 204.36,154.69 208.14,154.69 211.92,154.69 215.7,153.88 219.48,153.06 223.26,150.61 227.04,153.06 230.82,151.43 234.6,151.43 238.38,150.61 242.16,149.8 245.94,148.98 249.72,149.31 253.5,148.98" fill="none" stroke="#000" stroke-width="0.55"/>
<polyline points="159,156.32 162.78,155.51 166.56,161.22 170.34,164.49 174.12,164.49 177.9,166.12 181.68,165.3 185.46,166.12 189.24,165.79 193.02,164.49 196.8,164.49 200.58,169.38 204.36,174.28 208.14,177.55 211.92,178.36 215.7,180 219.48,181.63 223.26,182.44 227.04,183.59 230.82,183.75 234.6,184.4 238.38,183.59 242.16,185.71 245.94,185.38 249.72,187.83 253.5,187.34" fill="none" stroke="#000" stroke-width="0.55"/>
<circle cx="159" cy="156.32" r="1.08"/><circle cx="162.78" cy="154.69" r="1.08"/><circle cx="166.56" cy="157.96" r="1.08"/><circle cx="170.34" cy="160.41" r="1.08"/><circle cx="174.12" cy="158.77" r="1.08"/><circle cx="177.9" cy="160.41" r="1.08"/><circle cx="181.68" cy="159.59" r="1.08"/><circle cx="185.46" cy="158.77" r="1.08"/><circle cx="189.24" cy="158.77" r="1.08"/><circle cx="193.02" cy="157.96" r="1.08"/><circle cx="196.8" cy="156.32" r="1.08"/><circle cx="200.58" cy="155.51" r="1.08"/><circle cx="204.36" cy="154.69" r="1.08"/><circle cx="208.14" cy="154.69" r="1.08"/><circle cx="211.92" cy="154.69" r="1.08"/><circle cx="215.7" cy="153.88" r="1.08"/><circle cx="219.48" cy="153.06" r="1.08"/><circle cx="223.26" cy="150.61" r="1.08"/><circle cx="227.04" cy="153.06" r="1.08"/><circle cx="230.82" cy="151.43" r="1.08"/><circle cx="234.6" cy="151.43" r="1.08"/><circle cx="238.38" cy="150.61" r="1.08"/><circle cx="242.16" cy="149.8" r="1.08"/><circle cx="245.94" cy="148.98" r="1.08"/><circle cx="249.72" cy="149.31" r="1.08"/><circle cx="253.5" cy="148.98" r="1.08"/><rect x="157.93" y="155.25" width="2.15" height="2.15"/><rect x="161.71" y="154.43" width="2.15" height="2.15"/><rect x="165.49" y="160.15" width="2.15" height="2.15"/><rect x="169.27" y="163.41" width="2.15" height="2.15"/><rect x="173.05" y="163.41" width="2.15" height="2.15"/><rect x="176.83" y="165.05" width="2.15" height="2.15"/><rect x="180.61" y="164.23" width="2.15" height="2.15"/><rect x="184.39" y="165.05" width="2.15" height="2.15"/><rect x="188.17" y="164.72" width="2.15" height="2.15"/><rect x="191.94" y="163.41" width="2.15" height="2.15"/><rect x="195.73" y="163.41" width="2.15" height="2.15"/><rect x="199.5" y="168.31" width="2.15" height="2.15"/><rect x="203.29" y="173.21" width="2.15" height="2.15"/><rect x="207.06" y="176.47" width="2.15" height="2.15"/><rect x="210.84" y="177.29" width="2.15" height="2.15"/><rect x="214.62" y="178.92" width="2.15" height="2.15"/><rect x="218.41" y="180.55" width="2.15" height="2.15"/><rect x="222.19" y="181.37" width="2.15" height="2.15"/><rect x="225.97" y="182.51" width="2.15" height="2.15"/><rect x="229.75" y="182.68" width="2.15" height="2.15"/><rect x="233.53" y="183.33" width="2.15" height="2.15"/><rect x="237.31" y="182.51" width="2.15" height="2.15"/><rect x="241.09" y="184.64" width="2.15" height="2.15"/><rect x="244.87" y="184.31" width="2.15" height="2.15"/><rect x="248.65" y="186.76" width="2.15" height="2.15"/><rect x="252.43" y="186.27" width="2.15" height="2.15"/>
<path d="M196.5 144.2V149.5" stroke="#000" stroke-width="0.8" fill="none"/>
<path d="M195.3 148.2h2.4l-1.2 2.8z"/>
<path d="M200.75 145.1H254.25M200.75 143.8v2.6M254.25 143.8v2.6" stroke="#000" stroke-width="0.7" fill="none"/>
<text x="229" y="145.47" font-size="8.6" letter-spacing="0.5" text-anchor="middle">***</text>
</g>
<g id="panel-F">
<text x="133.1" y="236" font-size="14.5">F</text>
<path d="M159 239V304.5H258.04M159 304.5h-1.3M159 291.4h-1.3M159 278.3h-1.3M159 265.2h-1.3M159 252.1h-1.3M159 239h-1.3M159 304.5v1.2M174.12 304.5v1.2M189.24 304.5v1.2M204.36 304.5v1.2M219.48 304.5v1.2M234.6 304.5v1.2M249.72 304.5v1.2" fill="none" stroke="#222" stroke-width="0.4"/>
<g class="t" font-size="6">
<text x="157.75" y="306.55" text-anchor="end">0</text>
<text x="157.75" y="293.45" text-anchor="end">20</text>
<text x="157.75" y="280.35" text-anchor="end">40</text>
<text x="157.75" y="267.25" text-anchor="end">60</text>
<text x="157.75" y="254.15" text-anchor="end">80</text>
<text x="157.75" y="241.05" text-anchor="end">100</text>
<text x="159" y="311.6" text-anchor="middle">0</text>
<text x="174.12" y="311.6" text-anchor="middle">4</text>
<text x="189.24" y="311.6" text-anchor="middle">8</text>
<text x="204.36" y="311.6" text-anchor="middle">12</text>
<text x="219.48" y="311.6" text-anchor="middle">16</text>
<text x="234.6" y="311.6" text-anchor="middle">20</text>
<text x="249.72" y="311.6" text-anchor="middle">24</text>
</g>
<text x="208.05" y="319.5" font-size="6.05" text-anchor="middle">Days of injection</text>
<text transform="translate(144.1 269.15) rotate(-90)" font-size="6.05" text-anchor="middle">Cumulative FI (g)</text>
<path d="M162.78 301.75V302.27M166.56 298.34V299.39M170.34 296.8V297.92M174.12 294.79V296M177.9 291.74V293.03M181.68 289.87V291.23M185.46 287.66V289.11M189.24 285.46V286.99M193.02 283.26V284.87M196.8 281.06V282.75M200.58 279.19V280.95M204.36 277.31V279.16M208.14 275.44V277.36M211.92 273.56V275.57M215.7 271.6V273.69M219.48 269.64V271.8M223.26 267.67V269.92M227.04 265.71V268.04M230.82 263.75V266.15M234.6 261.78V264.27M238.38 259.82V262.38M242.16 257.86V260.5M245.94 255.9V258.62M249.72 253.93V256.73M253.5 251.97V254.85M162.78 301.75V302.27M166.56 298.61V299.65M170.34 297.12V298.26M174.12 296.02V297.26M177.9 294.01V295.34M181.68 292.32V293.76M185.46 290.62V292.15M189.24 288.92V290.54M193.02 287.21V288.94M196.8 285.51V287.33M200.58 284.37V286.28M204.36 283.22V285.24M208.14 282.07V284.19M211.92 280.93V283.14M215.7 279.54V281.85M219.48 278.15V280.56M223.26 276.76V279.26M227.04 275.38V277.97M230.82 273.99V276.68M234.6 272.6V275.39M238.38 271.21V274.1M242.16 269.82V272.81M245.94 268.43V271.52M249.72 267.05V270.22M253.5 265.66V268.93" fill="none" stroke="#000" stroke-width="0.42"/>
<path d="M161.78 301.75h2M161.78 302.27h2M165.56 298.34h2M165.56 299.39h2M169.34 296.8h2M169.34 297.92h2M173.12 294.79h2M173.12 296h2M176.9 291.74h2M176.9 293.03h2M180.68 289.87h2M180.68 291.23h2M184.46 287.66h2M184.46 289.11h2M188.24 285.46h2M188.24 286.99h2M192.02 283.26h2M192.02 284.87h2M195.8 281.06h2M195.8 282.75h2M199.58 279.19h2M199.58 280.95h2M203.36 277.31h2M203.36 279.16h2M207.14 275.44h2M207.14 277.36h2M210.92 273.56h2M210.92 275.57h2M214.7 271.6h2M214.7 273.69h2M218.48 269.64h2M218.48 271.8h2M222.26 267.67h2M222.26 269.92h2M226.04 265.71h2M226.04 268.04h2M229.82 263.75h2M229.82 266.15h2M233.6 261.78h2M233.6 264.27h2M237.38 259.82h2M237.38 262.38h2M241.16 257.86h2M241.16 260.5h2M244.94 255.9h2M244.94 258.62h2M248.72 253.93h2M248.72 256.73h2M252.5 251.97h2M252.5 254.85h2M161.78 301.75h2M161.78 302.27h2M165.56 298.61h2M165.56 299.65h2M169.34 297.12h2M169.34 298.26h2M173.12 296.02h2M173.12 297.26h2M176.9 294.01h2M176.9 295.34h2M180.68 292.32h2M180.68 293.76h2M184.46 290.62h2M184.46 292.15h2M188.24 288.92h2M188.24 290.54h2M192.02 287.21h2M192.02 288.94h2M195.8 285.51h2M195.8 287.33h2M199.58 284.37h2M199.58 286.28h2M203.36 283.22h2M203.36 285.24h2M207.14 282.07h2M207.14 284.19h2M210.92 280.93h2M210.92 283.14h2M214.7 279.54h2M214.7 281.85h2M218.48 278.15h2M218.48 280.56h2M222.26 276.76h2M222.26 279.26h2M226.04 275.38h2M226.04 277.97h2M229.82 273.99h2M229.82 276.68h2M233.6 272.6h2M233.6 275.39h2M237.38 271.21h2M237.38 274.1h2M241.16 269.82h2M241.16 272.81h2M244.94 268.43h2M244.94 271.52h2M248.72 267.05h2M248.72 270.22h2M252.5 265.66h2M252.5 268.93h2" fill="none" stroke="#000" stroke-width="0.6"/>
<polyline points="159,304.5 162.78,302.01 166.56,298.87 170.34,297.36 174.12,295.4 177.9,292.38 181.68,290.55 185.46,288.39 189.24,286.23 193.02,284.06 196.8,281.9 200.58,280.07 204.36,278.23 208.14,276.4 211.92,274.57 215.7,272.64 219.48,270.72 223.26,268.8 227.04,266.87 230.82,264.95 234.6,263.03 238.38,261.1 242.16,259.18 245.94,257.26 249.72,255.33 253.5,253.41" fill="none" stroke="#000" stroke-width="0.55"/>
<polyline points="159,304.5 162.78,302.01 166.56,299.13 170.34,297.69 174.12,296.64 177.9,294.68 181.68,293.04 185.46,291.38 189.24,289.73 193.02,288.08 196.8,286.42 200.58,285.32 204.36,284.23 208.14,283.13 211.92,282.03 215.7,280.69 219.48,279.35 223.26,278.01 227.04,276.67 230.82,275.33 234.6,273.99 238.38,272.66 242.16,271.32 245.94,269.98 249.72,268.64 253.5,267.3" fill="none" stroke="#000" stroke-width="0.55"/>
<circle cx="159" cy="304.5" r="1.08"/><circle cx="162.78" cy="302.01" r="1.08"/><circle cx="166.56" cy="298.87" r="1.08"/><circle cx="170.34" cy="297.36" r="1.08"/><circle cx="174.12" cy="295.4" r="1.08"/><circle cx="177.9" cy="292.38" r="1.08"/><circle cx="181.68" cy="290.55" r="1.08"/><circle cx="185.46" cy="288.39" r="1.08"/><circle cx="189.24" cy="286.23" r="1.08"/><circle cx="193.02" cy="284.06" r="1.08"/><circle cx="196.8" cy="281.9" r="1.08"/><circle cx="200.58" cy="280.07" r="1.08"/><circle cx="204.36" cy="278.23" r="1.08"/><circle cx="208.14" cy="276.4" r="1.08"/><circle cx="211.92" cy="274.57" r="1.08"/><circle cx="215.7" cy="272.64" r="1.08"/><circle cx="219.48" cy="270.72" r="1.08"/><circle cx="223.26" cy="268.8" r="1.08"/><circle cx="227.04" cy="266.87" r="1.08"/><circle cx="230.82" cy="264.95" r="1.08"/><circle cx="234.6" cy="263.03" r="1.08"/><circle cx="238.38" cy="261.1" r="1.08"/><circle cx="242.16" cy="259.18" r="1.08"/><circle cx="245.94" cy="257.26" r="1.08"/><circle cx="249.72" cy="255.33" r="1.08"/><circle cx="253.5" cy="253.41" r="1.08"/><rect x="157.93" y="303.43" width="2.15" height="2.15"/><rect x="161.71" y="300.94" width="2.15" height="2.15"/><rect x="165.49" y="298.05" width="2.15" height="2.15"/><rect x="169.27" y="296.61" width="2.15" height="2.15"/><rect x="173.05" y="295.56" width="2.15" height="2.15"/><rect x="176.83" y="293.6" width="2.15" height="2.15"/><rect x="180.61" y="291.96" width="2.15" height="2.15"/><rect x="184.39" y="290.31" width="2.15" height="2.15"/><rect x="188.17" y="288.65" width="2.15" height="2.15"/><rect x="191.94" y="287" width="2.15" height="2.15"/><rect x="195.73" y="285.35" width="2.15" height="2.15"/><rect x="199.5" y="284.25" width="2.15" height="2.15"/><rect x="203.29" y="283.15" width="2.15" height="2.15"/><rect x="207.06" y="282.06" width="2.15" height="2.15"/><rect x="210.84" y="280.96" width="2.15" height="2.15"/><rect x="214.62" y="279.62" width="2.15" height="2.15"/><rect x="218.41" y="278.28" width="2.15" height="2.15"/><rect x="222.19" y="276.94" width="2.15" height="2.15"/><rect x="225.97" y="275.6" width="2.15" height="2.15"/><rect x="229.75" y="274.26" width="2.15" height="2.15"/><rect x="233.53" y="272.92" width="2.15" height="2.15"/><rect x="237.31" y="271.58" width="2.15" height="2.15"/><rect x="241.09" y="270.24" width="2.15" height="2.15"/><rect x="244.87" y="268.9" width="2.15" height="2.15"/><rect x="248.65" y="267.56" width="2.15" height="2.15"/><rect x="252.43" y="266.22" width="2.15" height="2.15"/>
<path d="M196.5 270V275.7" stroke="#000" stroke-width="0.8" fill="none"/>
<path d="M195.3 274.4h2.4l-1.2 2.8z"/>
<g transform="translate(210 267.75) rotate(-25.74)"><path d="M0 0H46.63M0 -1.3v2.6M46.63 -1.3v2.6" stroke="#000" stroke-width="0.65" fill="none"/></g>
<text transform="translate(231.94 257.13) rotate(-25.74)" font-size="8.6" letter-spacing="0.9" text-anchor="middle">***</text>
</g>
<g id="panel-G">
<text x="267.3" y="33" font-size="14.5">G</text>
<path d="M288.5 43V108.2H386.75M288.5 108.2h-1.3M288.5 97.33h-1.3M288.5 86.47h-1.3M288.5 75.6h-1.3M288.5 64.73h-1.3M288.5 53.87h-1.3M288.5 43h-1.3M288.5 108.2v1.2M303.5 108.2v1.2M318.5 108.2v1.2M333.5 108.2v1.2M348.5 108.2v1.2M363.5 108.2v1.2M378.5 108.2v1.2" fill="none" stroke="#222" stroke-width="0.4"/>
<g class="t" font-size="6">
<text x="287.25" y="110.25" text-anchor="end">30</text>
<text x="287.25" y="99.38" text-anchor="end">40</text>
<text x="287.25" y="88.52" text-anchor="end">50</text>
<text x="287.25" y="77.65" text-anchor="end">60</text>
<text x="287.25" y="66.78" text-anchor="end">70</text>
<text x="287.25" y="55.92" text-anchor="end">80</text>
<text x="287.25" y="45.05" text-anchor="end">90</text>
<text x="288.5" y="115.3" text-anchor="middle">0</text>
<text x="303.5" y="115.3" text-anchor="middle">4</text>
<text x="318.5" y="115.3" text-anchor="middle">8</text>
<text x="333.5" y="115.3" text-anchor="middle">12</text>
<text x="348.5" y="115.3" text-anchor="middle">16</text>
<text x="363.5" y="115.3" text-anchor="middle">20</text>
<text x="378.5" y="115.3" text-anchor="middle">24</text>
</g>
<text x="337.18" y="123.2" font-size="6.05" text-anchor="middle">Days of injection</text>
<text transform="translate(277.4 73.6) rotate(-90)" font-size="6.05" text-anchor="middle">Body Weight (g)</text>
<path d="M288.5 65.28V66.36M292.25 58V74.73M296 58.54V75.27M299.75 58.87V75.6M303.5 59.08V75.82M307.25 59.08V75.82M311 59.3V76.03M314.75 59.3V76.03M318.5 59.3V76.03M322.25 59.19V75.93M326 59.08V75.82M329.75 59.08V75.82M333.5 59.08V75.82M337.25 59.08V75.82M341 59.08V75.82M344.75 59.3V76.03M348.5 59.08V75.82M352.25 58.97V75.71M356 59.08V75.82M359.75 59.08V75.82M363.5 59.08V75.82M367.25 58.97V75.71M371 58.87V75.6M374.75 58.87V75.6M378.5 58.97V75.71M382.25 59.08V75.82M288.5 65.28V66.36M292.25 58.87V74.51M296 59.63V75.27M299.75 60.39V76.03M303.5 60.93V76.58M307.25 61.47V77.12M311 61.58V77.23M314.75 61.58V77.23M318.5 61.58V77.23M322.25 61.47V77.12M326 61.47V77.12M329.75 61.91V78.43M333.5 62.78V79.29M337.25 63.32V79.84M341 63.76V80.27M344.75 64.19V80.71M348.5 64.08V81.47M352.25 64.41V81.79M356 64.73V82.12M359.75 64.95V82.34M363.5 65.06V82.45M367.25 65.28V82.66M371 65.39V82.77M374.75 65.49V82.88M378.5 65.6V82.99M382.25 65.71V83.1" fill="none" stroke="#000" stroke-width="0.42"/>
<path d="M287.5 65.28h2M287.5 66.36h2M291.25 58h2M291.25 74.73h2M295 58.54h2M295 75.27h2M298.75 58.87h2M298.75 75.6h2M302.5 59.08h2M302.5 75.82h2M306.25 59.08h2M306.25 75.82h2M310 59.3h2M310 76.03h2M313.75 59.3h2M313.75 76.03h2M317.5 59.3h2M317.5 76.03h2M321.25 59.19h2M321.25 75.93h2M325 59.08h2M325 75.82h2M328.75 59.08h2M328.75 75.82h2M332.5 59.08h2M332.5 75.82h2M336.25 59.08h2M336.25 75.82h2M340 59.08h2M340 75.82h2M343.75 59.3h2M343.75 76.03h2M347.5 59.08h2M347.5 75.82h2M351.25 58.97h2M351.25 75.71h2M355 59.08h2M355 75.82h2M358.75 59.08h2M358.75 75.82h2M362.5 59.08h2M362.5 75.82h2M366.25 58.97h2M366.25 75.71h2M370 58.87h2M370 75.6h2M373.75 58.87h2M373.75 75.6h2M377.5 58.97h2M377.5 75.71h2M381.25 59.08h2M381.25 75.82h2M287.5 65.28h2M287.5 66.36h2M291.25 58.87h2M291.25 74.51h2M295 59.63h2M295 75.27h2M298.75 60.39h2M298.75 76.03h2M302.5 60.93h2M302.5 76.58h2M306.25 61.47h2M306.25 77.12h2M310 61.58h2M310 77.23h2M313.75 61.58h2M313.75 77.23h2M317.5 61.58h2M317.5 77.23h2M321.25 61.47h2M321.25 77.12h2M325 61.47h2M325 77.12h2M328.75 61.91h2M328.75 78.43h2M332.5 62.78h2M332.5 79.29h2M336.25 63.32h2M336.25 79.84h2M340 63.76h2M340 80.27h2M343.75 64.19h2M343.75 80.71h2M347.5 64.08h2M347.5 81.47h2M351.25 64.41h2M351.25 81.79h2M355 64.73h2M355 82.12h2M358.75 64.95h2M358.75 82.34h2M362.5 65.06h2M362.5 82.45h2M366.25 65.28h2M366.25 82.66h2M370 65.39h2M370 82.77h2M373.75 65.49h2M373.75 82.88h2M377.5 65.6h2M377.5 82.99h2M381.25 65.71h2M381.25 83.1h2" fill="none" stroke="#000" stroke-width="0.6"/>
<polyline points="288.5,65.82 292.25,66.36 296,66.91 299.75,67.23 303.5,67.45 307.25,67.45 311,67.67 314.75,67.67 318.5,67.67 322.25,67.56 326,67.45 329.75,67.45 333.5,67.45 337.25,67.45 341,67.45 344.75,67.67 348.5,67.45 352.25,67.34 356,67.45 359.75,67.45 363.5,67.45 367.25,67.34 371,67.23 374.75,67.23 378.5,67.34 382.25,67.45" fill="none" stroke="#000" stroke-width="0.55"/>
<polyline points="288.5,65.82 292.25,66.69 296,67.45 299.75,68.21 303.5,68.75 307.25,69.3 311,69.41 314.75,69.41 318.5,69.41 322.25,69.3 326,69.3 329.75,70.17 333.5,71.04 337.25,71.58 341,72.01 344.75,72.45 348.5,72.77 352.25,73.1 356,73.43 359.75,73.64 363.5,73.75 367.25,73.97 371,74.08 374.75,74.19 378.5,74.3 382.25,74.4" fill="none" stroke="#000" stroke-width="0.55"/>
<circle cx="288.5" cy="65.82" r="1.08"/><circle cx="292.25" cy="66.36" r="1.08"/><circle cx="296" cy="66.91" r="1.08"/><circle cx="299.75" cy="67.23" r="1.08"/><circle cx="303.5" cy="67.45" r="1.08"/><circle cx="307.25" cy="67.45" r="1.08"/><circle cx="311" cy="67.67" r="1.08"/><circle cx="314.75" cy="67.67" r="1.08"/><circle cx="318.5" cy="67.67" r="1.08"/><circle cx="322.25" cy="67.56" r="1.08"/><circle cx="326" cy="67.45" r="1.08"/><circle cx="329.75" cy="67.45" r="1.08"/><circle cx="333.5" cy="67.45" r="1.08"/><circle cx="337.25" cy="67.45" r="1.08"/><circle cx="341" cy="67.45" r="1.08"/><circle cx="344.75" cy="67.67" r="1.08"/><circle cx="348.5" cy="67.45" r="1.08"/><circle cx="352.25" cy="67.34" r="1.08"/><circle cx="356" cy="67.45" r="1.08"/><circle cx="359.75" cy="67.45" r="1.08"/><circle cx="363.5" cy="67.45" r="1.08"/><circle cx="367.25" cy="67.34" r="1.08"/><circle cx="371" cy="67.23" r="1.08"/><circle cx="374.75" cy="67.23" r="1.08"/><circle cx="378.5" cy="67.34" r="1.08"/><circle cx="382.25" cy="67.45" r="1.08"/><rect x="287.43" y="64.74" width="2.15" height="2.15"/><rect x="291.18" y="65.61" width="2.15" height="2.15"/><rect x="294.93" y="66.38" width="2.15" height="2.15"/><rect x="298.68" y="67.14" width="2.15" height="2.15"/><rect x="302.43" y="67.68" width="2.15" height="2.15"/><rect x="306.18" y="68.22" width="2.15" height="2.15"/><rect x="309.93" y="68.33" width="2.15" height="2.15"/><rect x="313.68" y="68.33" width="2.15" height="2.15"/><rect x="317.43" y="68.33" width="2.15" height="2.15"/><rect x="321.18" y="68.22" width="2.15" height="2.15"/><rect x="324.93" y="68.22" width="2.15" height="2.15"/><rect x="328.68" y="69.09" width="2.15" height="2.15"/><rect x="332.43" y="69.96" width="2.15" height="2.15"/><rect x="336.18" y="70.5" width="2.15" height="2.15"/><rect x="339.93" y="70.94" width="2.15" height="2.15"/><rect x="343.68" y="71.37" width="2.15" height="2.15"/><rect x="347.43" y="71.7" width="2.15" height="2.15"/><rect x="351.18" y="72.03" width="2.15" height="2.15"/><rect x="354.93" y="72.35" width="2.15" height="2.15"/><rect x="358.68" y="72.57" width="2.15" height="2.15"/><rect x="362.43" y="72.68" width="2.15" height="2.15"/><rect x="366.18" y="72.89" width="2.15" height="2.15"/><rect x="369.93" y="73" width="2.15" height="2.15"/><rect x="373.68" y="73.11" width="2.15" height="2.15"/><rect x="377.43" y="73.22" width="2.15" height="2.15"/><rect x="381.18" y="73.33" width="2.15" height="2.15"/>
<path d="M326.2 48.2V53.7" stroke="#000" stroke-width="0.8" fill="none"/>
<path d="M325 52.4h2.4l-1.2 2.8z"/>
</g>
<g id="panel-H">
<text x="267" y="137" font-size="14.5">H</text>
<path d="M290 139.5V205.3H389.3M290 205.3h-1.3M290 192.14h-1.3M290 178.98h-1.3M290 165.82h-1.3M290 152.66h-1.3M290 139.5h-1.3M290 205.3v1.2M305.16 205.3v1.2M320.32 205.3v1.2M335.48 205.3v1.2M350.64 205.3v1.2M365.8 205.3v1.2M380.96 205.3v1.2" fill="none" stroke="#222" stroke-width="0.4"/>
<g class="t" font-size="6">
<text x="288.75" y="207.35" text-anchor="end">80</text>
<text x="288.75" y="194.19" text-anchor="end">85</text>
<text x="288.75" y="181.03" text-anchor="end">90</text>
<text x="288.75" y="167.87" text-anchor="end">95</text>
<text x="288.75" y="154.71" text-anchor="end">100</text>
<text x="288.75" y="141.55" text-anchor="end">105</text>
<text x="290" y="212.4" text-anchor="middle">0</text>
<text x="305.16" y="212.4" text-anchor="middle">4</text>
<text x="320.32" y="212.4" text-anchor="middle">8</text>
<text x="335.48" y="212.4" text-anchor="middle">12</text>
<text x="350.64" y="212.4" text-anchor="middle">16</text>
<text x="365.8" y="212.4" text-anchor="middle">20</text>
<text x="380.96" y="212.4" text-anchor="middle">24</text>
</g>
<text x="339.18" y="220.3" font-size="6.05" text-anchor="middle">Days of injection</text>
<text transform="translate(276.4 169.8) rotate(-90)" font-size="6.05" text-anchor="middle">% baseline BW</text>
<path d="M290 151.87V153.45M293.79 152.66V157.92M297.58 151.34V159.24M301.37 150.82V159.77M305.16 150.82V159.77M308.95 151.61V160.56M312.74 150.82V159.77M316.53 150.82V159.77M320.32 151.61V160.56M324.11 150.29V159.24M327.9 150.82V159.77M331.69 152.66V160.56M335.48 151.34V159.24M339.27 151.34V159.24M343.06 152.13V160.03M346.85 153.98V160.82M350.64 151.87V158.71M354.43 151.87V158.71M358.22 153.45V161.35M362.01 152.13V160.03M365.8 152.13V160.03M369.59 151.34V159.24M373.38 151.34V159.24M377.17 151.34V159.24M380.96 151.87V159.77M384.75 153.45V162.4M290 151.87V153.45M293.79 153.19V157.4M297.58 156.08V162.4M301.37 157.13V165.03M305.16 158.45V167.93M308.95 160.03V170.56M312.74 160.56V171.08M316.53 161.35V171.87M320.32 159.5V171.08M324.11 158.45V171.08M327.9 158.98V172.66M331.69 161.61V176.35M335.48 164.5V180.3M339.27 166.35V182.14M343.06 167.66V183.45M346.85 168.45V185.3M350.64 170.03V186.88M354.43 169.77V187.14M358.22 171.35V189.24M362.01 171.08V189.51M365.8 172.14V191.09M369.59 172.66V192.14M373.38 173.72V193.72M377.17 173.98V194.51M380.96 175.82V196.88M384.75 174.51V196.61" fill="none" stroke="#000" stroke-width="0.42"/>
<path d="M289 151.87h2M289 153.45h2M292.79 152.66h2M292.79 157.92h2M296.58 151.34h2M296.58 159.24h2M300.37 150.82h2M300.37 159.77h2M304.16 150.82h2M304.16 159.77h2M307.95 151.61h2M307.95 160.56h2M311.74 150.82h2M311.74 159.77h2M315.53 150.82h2M315.53 159.77h2M319.32 151.61h2M319.32 160.56h2M323.11 150.29h2M323.11 159.24h2M326.9 150.82h2M326.9 159.77h2M330.69 152.66h2M330.69 160.56h2M334.48 151.34h2M334.48 159.24h2M338.27 151.34h2M338.27 159.24h2M342.06 152.13h2M342.06 160.03h2M345.85 153.98h2M345.85 160.82h2M349.64 151.87h2M349.64 158.71h2M353.43 151.87h2M353.43 158.71h2M357.22 153.45h2M357.22 161.35h2M361.01 152.13h2M361.01 160.03h2M364.8 152.13h2M364.8 160.03h2M368.59 151.34h2M368.59 159.24h2M372.38 151.34h2M372.38 159.24h2M376.17 151.34h2M376.17 159.24h2M379.96 151.87h2M379.96 159.77h2M383.75 153.45h2M383.75 162.4h2M289 151.87h2M289 153.45h2M292.79 153.19h2M292.79 157.4h2M296.58 156.08h2M296.58 162.4h2M300.37 157.13h2M300.37 165.03h2M304.16 158.45h2M304.16 167.93h2M307.95 160.03h2M307.95 170.56h2M311.74 160.56h2M311.74 171.08h2M315.53 161.35h2M315.53 171.87h2M319.32 159.5h2M319.32 171.08h2M323.11 158.45h2M323.11 171.08h2M326.9 158.98h2M326.9 172.66h2M330.69 161.61h2M330.69 176.35h2M334.48 164.5h2M334.48 180.3h2M338.27 166.35h2M338.27 182.14h2M342.06 167.66h2M342.06 183.45h2M345.85 168.45h2M345.85 185.3h2M349.64 170.03h2M349.64 186.88h2M353.43 169.77h2M353.43 187.14h2M357.22 171.35h2M357.22 189.24h2M361.01 171.08h2M361.01 189.51h2M364.8 172.14h2M364.8 191.09h2M368.59 172.66h2M368.59 192.14h2M372.38 173.72h2M372.38 193.72h2M376.17 173.98h2M376.17 194.51h2M379.96 175.82h2M379.96 196.88h2M383.75 174.51h2M383.75 196.61h2" fill="none" stroke="#000" stroke-width="0.6"/>
<polyline points="290,152.66 293.79,155.29 297.58,155.29 301.37,155.29 305.16,155.29 308.95,156.08 312.74,155.29 316.53,155.29 320.32,156.08 324.11,154.77 327.9,155.29 331.69,156.61 335.48,155.29 339.27,155.29 343.06,156.08 346.85,157.4 350.64,155.29 354.43,155.29 358.22,157.4 362.01,156.08 365.8,156.08 369.59,155.29 373.38,155.29 377.17,155.29 380.96,155.82 384.75,157.92" fill="none" stroke="#000" stroke-width="0.55"/>
<polyline points="290,152.66 293.79,155.29 297.58,159.24 301.37,161.08 305.16,163.19 308.95,165.29 312.74,165.82 316.53,166.61 320.32,165.29 324.11,164.77 327.9,165.82 331.69,168.98 335.48,172.4 339.27,174.24 343.06,175.56 346.85,176.87 350.64,178.45 354.43,178.45 358.22,180.3 362.01,180.3 365.8,181.61 369.59,182.4 373.38,183.72 377.17,184.24 380.96,186.35 384.75,185.56" fill="none" stroke="#000" stroke-width="0.55"/>
<circle cx="290" cy="152.66" r="1.08"/><circle cx="293.79" cy="155.29" r="1.08"/><circle cx="297.58" cy="155.29" r="1.08"/><circle cx="301.37" cy="155.29" r="1.08"/><circle cx="305.16" cy="155.29" r="1.08"/><circle cx="308.95" cy="156.08" r="1.08"/><circle cx="312.74" cy="155.29" r="1.08"/><circle cx="316.53" cy="155.29" r="1.08"/><circle cx="320.32" cy="156.08" r="1.08"/><circle cx="324.11" cy="154.77" r="1.08"/><circle cx="327.9" cy="155.29" r="1.08"/><circle cx="331.69" cy="156.61" r="1.08"/><circle cx="335.48" cy="155.29" r="1.08"/><circle cx="339.27" cy="155.29" r="1.08"/><circle cx="343.06" cy="156.08" r="1.08"/><circle cx="346.85" cy="157.4" r="1.08"/><circle cx="350.64" cy="155.29" r="1.08"/><circle cx="354.43" cy="155.29" r="1.08"/><circle cx="358.22" cy="157.4" r="1.08"/><circle cx="362.01" cy="156.08" r="1.08"/><circle cx="365.8" cy="156.08" r="1.08"/><circle cx="369.59" cy="155.29" r="1.08"/><circle cx="373.38" cy="155.29" r="1.08"/><circle cx="377.17" cy="155.29" r="1.08"/><circle cx="380.96" cy="155.82" r="1.08"/><circle cx="384.75" cy="157.92" r="1.08"/><rect x="288.93" y="151.59" width="2.15" height="2.15"/><rect x="292.72" y="154.22" width="2.15" height="2.15"/><rect x="296.5" y="158.17" width="2.15" height="2.15"/><rect x="300.3" y="160.01" width="2.15" height="2.15"/><rect x="304.09" y="162.11" width="2.15" height="2.15"/><rect x="307.88" y="164.22" width="2.15" height="2.15"/><rect x="311.67" y="164.75" width="2.15" height="2.15"/><rect x="315.45" y="165.53" width="2.15" height="2.15"/><rect x="319.25" y="164.22" width="2.15" height="2.15"/><rect x="323.04" y="163.69" width="2.15" height="2.15"/><rect x="326.82" y="164.75" width="2.15" height="2.15"/><rect x="330.62" y="167.9" width="2.15" height="2.15"/><rect x="334.41" y="171.33" width="2.15" height="2.15"/><rect x="338.19" y="173.17" width="2.15" height="2.15"/><rect x="341.99" y="174.48" width="2.15" height="2.15"/><rect x="345.78" y="175.8" width="2.15" height="2.15"/><rect x="349.56" y="177.38" width="2.15" height="2.15"/><rect x="353.36" y="177.38" width="2.15" height="2.15"/><rect x="357.15" y="179.22" width="2.15" height="2.15"/><rect x="360.94" y="179.22" width="2.15" height="2.15"/><rect x="364.73" y="180.54" width="2.15" height="2.15"/><rect x="368.52" y="181.33" width="2.15" height="2.15"/><rect x="372.31" y="182.64" width="2.15" height="2.15"/><rect x="376.1" y="183.17" width="2.15" height="2.15"/><rect x="379.89" y="185.27" width="2.15" height="2.15"/><rect x="383.68" y="184.49" width="2.15" height="2.15"/>
<path d="M328 142.5V147.5" stroke="#000" stroke-width="0.8" fill="none"/>
<path d="M326.8 146.2h2.4l-1.2 2.8z"/>
<path d="M367.7 147.4H386.5M367.7 146.1v2.6M386.5 146.1v2.6" stroke="#000" stroke-width="0.7" fill="none"/>
<text x="377.25" y="148.07" font-size="8.6" letter-spacing="0.5" text-anchor="middle">*</text>
</g>
<g id="panel-I">
<text x="267" y="236" font-size="14.5">I</text>
<path d="M289.8 239.7V305H388.84M289.8 305h-1.3M289.8 288.68h-1.3M289.8 272.35h-1.3M289.8 256.02h-1.3M289.8 239.7h-1.3M289.8 305v1.2M304.92 305v1.2M320.04 305v1.2M335.16 305v1.2M350.28 305v1.2M365.4 305v1.2M380.52 305v1.2" fill="none" stroke="#222" stroke-width="0.4"/>
<g class="t" font-size="6">
<text x="288.55" y="307.05" text-anchor="end">0</text>
<text x="288.55" y="290.73" text-anchor="end">50</text>
<text x="288.55" y="274.4" text-anchor="end">100</text>
<text x="288.55" y="258.07" text-anchor="end">150</text>
<text x="288.55" y="241.75" text-anchor="end">200</text>
<text x="289.8" y="312.1" text-anchor="middle">0</text>
<text x="304.92" y="312.1" text-anchor="middle">4</text>
<text x="320.04" y="312.1" text-anchor="middle">8</text>
<text x="335.16" y="312.1" text-anchor="middle">12</text>
<text x="350.28" y="312.1" text-anchor="middle">16</text>
<text x="365.4" y="312.1" text-anchor="middle">20</text>
<text x="380.52" y="312.1" text-anchor="middle">24</text>
</g>
<text x="338.85" y="320" font-size="6.05" text-anchor="middle">Days of injection</text>
<text transform="translate(276.4 269.75) rotate(-90)" font-size="6.05" text-anchor="middle">Cumulative FI (g)</text>
<path d="M293.58 303.43V304.09M297.36 297.82V300.43M301.14 295.25V298.51M304.92 292.67V296.59M308.7 290.1V294.67M312.48 287.53V292.76M316.26 284.96V290.84M320.04 282.39V288.92M323.82 279.82V287M327.6 277.25V285.08M331.38 275.37V283.86M335.16 273.49V282.63M338.94 271.62V281.41M342.72 269.74V280.19M346.5 267.59V278.69M350.28 265.44V277.2M354.06 263.3V275.7M357.84 261.15V274.21M361.62 259.08V272.79M365.4 257V271.37M369.18 254.78V269.8M372.96 252.56V268.24M376.74 250.34V266.67M380.52 248.12V265.1M384.3 245.9V263.53M293.58 303.51V304M297.36 301.25V302.22M301.14 300.12V301.23M304.92 299V300.23M308.7 297.87V299.23M312.48 296.75V298.24M316.26 295.38V296.99M320.04 294.01V295.75M323.82 292.64V294.51M327.6 291.27V293.27M331.38 289.94V292.07M335.16 288.61V290.86M338.94 287.28V289.66M342.72 285.95V288.46M346.5 284.48V287.12M350.28 283V285.77M354.06 281.53V284.42M357.84 280.05V283.08M361.62 278.58V281.73M365.4 277.11V280.39M369.18 275.63V279.04M372.96 274.16V277.69M376.74 272.69V276.35M380.52 271.21V275M384.3 269.74V273.66" fill="none" stroke="#000" stroke-width="0.42"/>
<path d="M292.58 303.43h2M292.58 304.09h2M296.36 297.82h2M296.36 300.43h2M300.14 295.25h2M300.14 298.51h2M303.92 292.67h2M303.92 296.59h2M307.7 290.1h2M307.7 294.67h2M311.48 287.53h2M311.48 292.76h2M315.26 284.96h2M315.26 290.84h2M319.04 282.39h2M319.04 288.92h2M322.82 279.82h2M322.82 287h2M326.6 277.25h2M326.6 285.08h2M330.38 275.37h2M330.38 283.86h2M334.16 273.49h2M334.16 282.63h2M337.94 271.62h2M337.94 281.41h2M341.72 269.74h2M341.72 280.19h2M345.5 267.59h2M345.5 278.69h2M349.28 265.44h2M349.28 277.2h2M353.06 263.3h2M353.06 275.7h2M356.84 261.15h2M356.84 274.21h2M360.62 259.08h2M360.62 272.79h2M364.4 257h2M364.4 271.37h2M368.18 254.78h2M368.18 269.8h2M371.96 252.56h2M371.96 268.24h2M375.74 250.34h2M375.74 266.67h2M379.52 248.12h2M379.52 265.1h2M383.3 245.9h2M383.3 263.53h2M292.58 303.51h2M292.58 304h2M296.36 301.25h2M296.36 302.22h2M300.14 300.12h2M300.14 301.23h2M303.92 299h2M303.92 300.23h2M307.7 297.87h2M307.7 299.23h2M311.48 296.75h2M311.48 298.24h2M315.26 295.38h2M315.26 296.99h2M319.04 294.01h2M319.04 295.75h2M322.82 292.64h2M322.82 294.51h2M326.6 291.27h2M326.6 293.27h2M330.38 289.94h2M330.38 292.07h2M334.16 288.61h2M334.16 290.86h2M337.94 287.28h2M337.94 289.66h2M341.72 285.95h2M341.72 288.46h2M345.5 284.48h2M345.5 287.12h2M349.28 283h2M349.28 285.77h2M353.06 281.53h2M353.06 284.42h2M356.84 280.05h2M356.84 283.08h2M360.62 278.58h2M360.62 281.73h2M364.4 277.11h2M364.4 280.39h2M368.18 275.63h2M368.18 279.04h2M371.96 274.16h2M371.96 277.69h2M375.74 272.69h2M375.74 276.35h2M379.52 271.21h2M379.52 275h2M383.3 269.74h2M383.3 273.66h2" fill="none" stroke="#000" stroke-width="0.6"/>
<polyline points="289.8,305 293.58,303.76 297.36,299.12 301.14,296.88 304.92,294.63 308.7,292.39 312.48,290.14 316.26,287.9 320.04,285.65 323.82,283.41 327.6,281.17 331.38,279.61 335.16,278.06 338.94,276.51 342.72,274.96 346.5,273.14 350.28,271.32 354.06,269.5 357.84,267.68 361.62,265.93 365.4,264.19 369.18,262.29 372.96,260.4 376.74,258.51 380.52,256.61 384.3,254.72" fill="none" stroke="#000" stroke-width="0.55"/>
<polyline points="289.8,305 293.58,303.76 297.36,301.74 301.14,300.67 304.92,299.61 308.7,298.55 312.48,297.49 316.26,296.18 320.04,294.88 323.82,293.57 327.6,292.27 331.38,291 335.16,289.74 338.94,288.47 342.72,287.21 346.5,285.8 350.28,284.39 354.06,282.98 357.84,281.57 361.62,280.16 365.4,278.75 369.18,277.34 372.96,275.93 376.74,274.52 380.52,273.11 384.3,271.7" fill="none" stroke="#000" stroke-width="0.55"/>
<circle cx="289.8" cy="305" r="1.08"/><circle cx="293.58" cy="303.76" r="1.08"/><circle cx="297.36" cy="299.12" r="1.08"/><circle cx="301.14" cy="296.88" r="1.08"/><circle cx="304.92" cy="294.63" r="1.08"/><circle cx="308.7" cy="292.39" r="1.08"/><circle cx="312.48" cy="290.14" r="1.08"/><circle cx="316.26" cy="287.9" r="1.08"/><circle cx="320.04" cy="285.65" r="1.08"/><circle cx="323.82" cy="283.41" r="1.08"/><circle cx="327.6" cy="281.17" r="1.08"/><circle cx="331.38" cy="279.61" r="1.08"/><circle cx="335.16" cy="278.06" r="1.08"/><circle cx="338.94" cy="276.51" r="1.08"/><circle cx="342.72" cy="274.96" r="1.08"/><circle cx="346.5" cy="273.14" r="1.08"/><circle cx="350.28" cy="271.32" r="1.08"/><circle cx="354.06" cy="269.5" r="1.08"/><circle cx="357.84" cy="267.68" r="1.08"/><circle cx="361.62" cy="265.93" r="1.08"/><circle cx="365.4" cy="264.19" r="1.08"/><circle cx="369.18" cy="262.29" r="1.08"/><circle cx="372.96" cy="260.4" r="1.08"/><circle cx="376.74" cy="258.51" r="1.08"/><circle cx="380.52" cy="256.61" r="1.08"/><circle cx="384.3" cy="254.72" r="1.08"/><rect x="288.73" y="303.93" width="2.15" height="2.15"/><rect x="292.5" y="302.68" width="2.15" height="2.15"/><rect x="296.29" y="300.66" width="2.15" height="2.15"/><rect x="300.06" y="299.6" width="2.15" height="2.15"/><rect x="303.85" y="298.54" width="2.15" height="2.15"/><rect x="307.62" y="297.48" width="2.15" height="2.15"/><rect x="311.41" y="296.42" width="2.15" height="2.15"/><rect x="315.19" y="295.11" width="2.15" height="2.15"/><rect x="318.97" y="293.8" width="2.15" height="2.15"/><rect x="322.75" y="292.5" width="2.15" height="2.15"/><rect x="326.53" y="291.19" width="2.15" height="2.15"/><rect x="330.31" y="289.93" width="2.15" height="2.15"/><rect x="334.09" y="288.66" width="2.15" height="2.15"/><rect x="337.87" y="287.4" width="2.15" height="2.15"/><rect x="341.65" y="286.13" width="2.15" height="2.15"/><rect x="345.43" y="284.72" width="2.15" height="2.15"/><rect x="349.21" y="283.31" width="2.15" height="2.15"/><rect x="352.99" y="281.9" width="2.15" height="2.15"/><rect x="356.77" y="280.49" width="2.15" height="2.15"/><rect x="360.55" y="279.08" width="2.15" height="2.15"/><rect x="364.32" y="277.67" width="2.15" height="2.15"/><rect x="368.11" y="276.26" width="2.15" height="2.15"/><rect x="371.89" y="274.85" width="2.15" height="2.15"/><rect x="375.67" y="273.44" width="2.15" height="2.15"/><rect x="379.44" y="272.03" width="2.15" height="2.15"/><rect x="383.23" y="270.62" width="2.15" height="2.15"/>
<path d="M327.5 268.2V273.5" stroke="#000" stroke-width="0.8" fill="none"/>
<path d="M326.3 272.2h2.4l-1.2 2.8z"/>
</g>
<g id="panel-J">
<text x="397.7" y="33" font-size="14.5">J</text>
<path d="M418.5 42.3V107.4H517.27M418.5 107.4h-1.3M418.5 96.55h-1.3M418.5 85.7h-1.3M418.5 74.85h-1.3M418.5 64h-1.3M418.5 53.15h-1.3M418.5 42.3h-1.3M418.5 107.4v1.2M433.58 107.4v1.2M448.66 107.4v1.2M463.74 107.4v1.2M478.82 107.4v1.2M493.9 107.4v1.2M508.98 107.4v1.2" fill="none" stroke="#222" stroke-width="0.4"/>
<g class="t" font-size="6">
<text x="417.25" y="109.45" text-anchor="end">35</text>
<text x="417.25" y="98.6" text-anchor="end">40</text>
<text x="417.25" y="87.75" text-anchor="end">45</text>
<text x="417.25" y="76.9" text-anchor="end">50</text>
<text x="417.25" y="66.05" text-anchor="end">55</text>
<text x="417.25" y="55.2" text-anchor="end">60</text>
<text x="417.25" y="44.35" text-anchor="end">65</text>
<text x="418.5" y="114.5" text-anchor="middle">0</text>
<text x="433.58" y="114.5" text-anchor="middle">4</text>
<text x="448.66" y="114.5" text-anchor="middle">8</text>
<text x="463.74" y="114.5" text-anchor="middle">12</text>
<text x="478.82" y="114.5" text-anchor="middle">16</text>
<text x="493.9" y="114.5" text-anchor="middle">20</text>
<text x="508.98" y="114.5" text-anchor="middle">24</text>
</g>
<text x="467.43" y="122.4" font-size="6.05" text-anchor="middle">Days of injection</text>
<text transform="translate(408.1 72.85) rotate(-90)" font-size="6.05" text-anchor="middle">Body Weight (g)</text>
<path d="M418.5 56.4V58.57M422.27 52.06V65.09M426.04 54.02V65.3M429.81 55.32V64.43M433.58 55.75V64.87M437.35 56.62V65.74M441.12 56.62V65.74M444.89 56.62V65.74M448.66 55.97V65.09M452.43 55.1V64.22M456.2 54.89V64.43M459.97 54.89V64.43M463.74 54.89V64.43M467.51 54.45V64M471.28 54.23V63.78M475.05 54.02V63.57M478.82 53.37V63.35M482.59 54.02V64M486.36 54.02V64M490.13 53.8V63.78M493.9 53.8V63.78M497.67 53.8V63.78M501.44 53.58V63.57M505.21 53.58V63.57M508.98 54.23V64.22M512.75 55.54V65.52M418.5 56.4V58.57M422.27 53.15V68.34M426.04 56.4V71.59M429.81 58.57V73.77M433.58 59.01V74.2M437.35 60.74V75.94M441.12 61.18V76.37M444.89 63.13V78.32M448.66 63.13V78.32M452.43 62.48V77.67M456.2 62.91V78.11M459.97 66.82V82.01M463.74 68.99V84.18M467.51 71.81V87M471.28 72.68V87.87M475.05 73.77V88.95M478.82 74.85V90.04M482.59 75.28V90.47M486.36 75.94V91.12M490.13 76.37V91.56M493.9 77.02V92.21M497.67 77.02V92.21M501.44 76.59V91.78M505.21 77.45V92.64M508.98 78.11V93.3M512.75 78.76V94.81" fill="none" stroke="#000" stroke-width="0.42"/>
<path d="M417.5 56.4h2M417.5 58.57h2M421.27 52.06h2M421.27 65.09h2M425.04 54.02h2M425.04 65.3h2M428.81 55.32h2M428.81 64.43h2M432.58 55.75h2M432.58 64.87h2M436.35 56.62h2M436.35 65.74h2M440.12 56.62h2M440.12 65.74h2M443.89 56.62h2M443.89 65.74h2M447.66 55.97h2M447.66 65.09h2M451.43 55.1h2M451.43 64.22h2M455.2 54.89h2M455.2 64.43h2M458.97 54.89h2M458.97 64.43h2M462.74 54.89h2M462.74 64.43h2M466.51 54.45h2M466.51 64h2M470.28 54.23h2M470.28 63.78h2M474.05 54.02h2M474.05 63.57h2M477.82 53.37h2M477.82 63.35h2M481.59 54.02h2M481.59 64h2M485.36 54.02h2M485.36 64h2M489.13 53.8h2M489.13 63.78h2M492.9 53.8h2M492.9 63.78h2M496.67 53.8h2M496.67 63.78h2M500.44 53.58h2M500.44 63.57h2M504.21 53.58h2M504.21 63.57h2M507.98 54.23h2M507.98 64.22h2M511.75 55.54h2M511.75 65.52h2M417.5 56.4h2M417.5 58.57h2M421.27 53.15h2M421.27 68.34h2M425.04 56.4h2M425.04 71.59h2M428.81 58.57h2M428.81 73.77h2M432.58 59.01h2M432.58 74.2h2M436.35 60.74h2M436.35 75.94h2M440.12 61.18h2M440.12 76.37h2M443.89 63.13h2M443.89 78.32h2M447.66 63.13h2M447.66 78.32h2M451.43 62.48h2M451.43 77.67h2M455.2 62.91h2M455.2 78.11h2M458.97 66.82h2M458.97 82.01h2M462.74 68.99h2M462.74 84.18h2M466.51 71.81h2M466.51 87h2M470.28 72.68h2M470.28 87.87h2M474.05 73.77h2M474.05 88.95h2M477.82 74.85h2M477.82 90.04h2M481.59 75.28h2M481.59 90.47h2M485.36 75.94h2M485.36 91.12h2M489.13 76.37h2M489.13 91.56h2M492.9 77.02h2M492.9 92.21h2M496.67 77.02h2M496.67 92.21h2M500.44 76.59h2M500.44 91.78h2M504.21 77.45h2M504.21 92.64h2M507.98 78.11h2M507.98 93.3h2M511.75 78.76h2M511.75 94.81h2" fill="none" stroke="#000" stroke-width="0.6"/>
<polyline points="418.5,57.49 422.27,58.57 426.04,59.66 429.81,59.88 433.58,60.31 437.35,61.18 441.12,61.18 444.89,61.18 448.66,60.53 452.43,59.66 456.2,59.66 459.97,59.66 463.74,59.66 467.51,59.23 471.28,59.01 475.05,58.79 478.82,58.36 482.59,59.01 486.36,59.01 490.13,58.79 493.9,58.79 497.67,58.79 501.44,58.57 505.21,58.57 508.98,59.23 512.75,60.53" fill="none" stroke="#000" stroke-width="0.55"/>
<polyline points="418.5,57.49 422.27,60.74 426.04,64 429.81,66.17 433.58,66.6 437.35,68.34 441.12,68.77 444.89,70.73 448.66,70.73 452.43,70.08 456.2,70.51 459.97,74.42 463.74,76.59 467.51,79.41 471.28,80.28 475.05,81.36 478.82,82.44 482.59,82.88 486.36,83.53 490.13,83.96 493.9,84.62 497.67,84.62 501.44,84.18 505.21,85.05 508.98,85.7 512.75,86.78" fill="none" stroke="#000" stroke-width="0.55"/>
<circle cx="418.5" cy="57.49" r="1.08"/><circle cx="422.27" cy="58.57" r="1.08"/><circle cx="426.04" cy="59.66" r="1.08"/><circle cx="429.81" cy="59.88" r="1.08"/><circle cx="433.58" cy="60.31" r="1.08"/><circle cx="437.35" cy="61.18" r="1.08"/><circle cx="441.12" cy="61.18" r="1.08"/><circle cx="444.89" cy="61.18" r="1.08"/><circle cx="448.66" cy="60.53" r="1.08"/><circle cx="452.43" cy="59.66" r="1.08"/><circle cx="456.2" cy="59.66" r="1.08"/><circle cx="459.97" cy="59.66" r="1.08"/><circle cx="463.74" cy="59.66" r="1.08"/><circle cx="467.51" cy="59.23" r="1.08"/><circle cx="471.28" cy="59.01" r="1.08"/><circle cx="475.05" cy="58.79" r="1.08"/><circle cx="478.82" cy="58.36" r="1.08"/><circle cx="482.59" cy="59.01" r="1.08"/><circle cx="486.36" cy="59.01" r="1.08"/><circle cx="490.13" cy="58.79" r="1.08"/><circle cx="493.9" cy="58.79" r="1.08"/><circle cx="497.67" cy="58.79" r="1.08"/><circle cx="501.44" cy="58.57" r="1.08"/><circle cx="505.21" cy="58.57" r="1.08"/><circle cx="508.98" cy="59.23" r="1.08"/><circle cx="512.75" cy="60.53" r="1.08"/><rect x="417.43" y="56.41" width="2.15" height="2.15"/><rect x="421.19" y="59.67" width="2.15" height="2.15"/><rect x="424.97" y="62.92" width="2.15" height="2.15"/><rect x="428.74" y="65.09" width="2.15" height="2.15"/><rect x="432.5" y="65.53" width="2.15" height="2.15"/><rect x="436.28" y="67.27" width="2.15" height="2.15"/><rect x="440.05" y="67.7" width="2.15" height="2.15"/><rect x="443.81" y="69.65" width="2.15" height="2.15"/><rect x="447.59" y="69.65" width="2.15" height="2.15"/><rect x="451.36" y="69" width="2.15" height="2.15"/><rect x="455.12" y="69.43" width="2.15" height="2.15"/><rect x="458.9" y="73.34" width="2.15" height="2.15"/><rect x="462.67" y="75.51" width="2.15" height="2.15"/><rect x="466.44" y="78.33" width="2.15" height="2.15"/><rect x="470.2" y="79.2" width="2.15" height="2.15"/><rect x="473.98" y="80.28" width="2.15" height="2.15"/><rect x="477.75" y="81.37" width="2.15" height="2.15"/><rect x="481.52" y="81.8" width="2.15" height="2.15"/><rect x="485.29" y="82.45" width="2.15" height="2.15"/><rect x="489.06" y="82.89" width="2.15" height="2.15"/><rect x="492.82" y="83.54" width="2.15" height="2.15"/><rect x="496.6" y="83.54" width="2.15" height="2.15"/><rect x="500.37" y="83.11" width="2.15" height="2.15"/><rect x="504.13" y="83.97" width="2.15" height="2.15"/><rect x="507.91" y="84.62" width="2.15" height="2.15"/><rect x="511.68" y="85.71" width="2.15" height="2.15"/>
<path d="M456.1 45.2V50.5" stroke="#000" stroke-width="0.8" fill="none"/>
<path d="M454.9 49.2h2.4l-1.2 2.8z"/>
</g>
<g id="panel-K">
<text x="397" y="137" font-size="14.5">K</text>
<path d="M420.5 140V205.5H519.8M420.5 205.5h-1.3M420.5 189.12h-1.3M420.5 172.75h-1.3M420.5 156.38h-1.3M420.5 140h-1.3M420.5 205.5v1.2M435.66 205.5v1.2M450.82 205.5v1.2M465.98 205.5v1.2M481.14 205.5v1.2M496.3 205.5v1.2M511.46 205.5v1.2" fill="none" stroke="#222" stroke-width="0.4"/>
<g class="t" font-size="6">
<text x="419.25" y="207.55" text-anchor="end">70</text>
<text x="419.25" y="191.18" text-anchor="end">80</text>
<text x="419.25" y="174.8" text-anchor="end">90</text>
<text x="419.25" y="158.43" text-anchor="end">100</text>
<text x="419.25" y="142.05" text-anchor="end">110</text>
<text x="420.5" y="212.6" text-anchor="middle">0</text>
<text x="435.66" y="212.6" text-anchor="middle">4</text>
<text x="450.82" y="212.6" text-anchor="middle">8</text>
<text x="465.98" y="212.6" text-anchor="middle">12</text>
<text x="481.14" y="212.6" text-anchor="middle">16</text>
<text x="496.3" y="212.6" text-anchor="middle">20</text>
<text x="511.46" y="212.6" text-anchor="middle">24</text>
</g>
<text x="469.68" y="220.5" font-size="6.05" text-anchor="middle">Days of injection</text>
<text transform="translate(406.7 170.15) rotate(-90)" font-size="6.05" text-anchor="middle">% baseline BW</text>
<path d="M420.5 156.05V156.7M424.29 156.54V157.19M428.08 156.87V157.52M431.87 158.5V159.16M435.66 159V159.65M439.45 160.63V161.29M443.24 160.14V160.8M447.03 160.14V160.8M450.82 159.32V159.98M454.61 157.19V159.81M458.4 157.85V160.47M462.19 157.85V160.47M465.98 157.85V160.47M469.77 157.19V159.81M473.56 157.19V159.81M477.35 156.7V159.32M481.14 155.56V158.18M484.93 156.7V159.32M488.72 156.7V159.32M492.51 156.21V158.83M496.3 156.7V159.32M500.09 156.21V158.83M503.88 156.21V158.83M507.67 156.21V158.83M511.46 156.7V159.32M515.25 158.34V160.96M420.5 155.88V156.87M424.29 159.16V161.78M428.08 162.93V166.2M431.87 166.2V169.47M435.66 166.2V169.47M439.45 168.17V172.42M443.24 168.98V173.24M447.03 171.44V175.7M450.82 171.44V175.7M454.61 170.29V175.21M458.4 171.11V176.03M462.19 176.03V180.94M465.98 180.12V185.03M469.77 182.57V187.49M473.56 184.21V189.12M477.35 185.03V189.94M481.14 186.18V191.09M484.93 187.16V192.07M488.72 188.47V194.04M492.51 187.98V193.55M496.3 189.12V194.69M500.09 189.12V194.69M503.88 188.8V194.37M507.67 189.62V195.18M511.46 191.25V196.82M515.25 192.07V197.64" fill="none" stroke="#000" stroke-width="0.42"/>
<path d="M419.5 156.05h2M419.5 156.7h2M423.29 156.54h2M423.29 157.19h2M427.08 156.87h2M427.08 157.52h2M430.87 158.5h2M430.87 159.16h2M434.66 159h2M434.66 159.65h2M438.45 160.63h2M438.45 161.29h2M442.24 160.14h2M442.24 160.8h2M446.03 160.14h2M446.03 160.8h2M449.82 159.32h2M449.82 159.98h2M453.61 157.19h2M453.61 159.81h2M457.4 157.85h2M457.4 160.47h2M461.19 157.85h2M461.19 160.47h2M464.98 157.85h2M464.98 160.47h2M468.77 157.19h2M468.77 159.81h2M472.56 157.19h2M472.56 159.81h2M476.35 156.7h2M476.35 159.32h2M480.14 155.56h2M480.14 158.18h2M483.93 156.7h2M483.93 159.32h2M487.72 156.7h2M487.72 159.32h2M491.51 156.21h2M491.51 158.83h2M495.3 156.7h2M495.3 159.32h2M499.09 156.21h2M499.09 158.83h2M502.88 156.21h2M502.88 158.83h2M506.67 156.21h2M506.67 158.83h2M510.46 156.7h2M510.46 159.32h2M514.25 158.34h2M514.25 160.96h2M419.5 155.88h2M419.5 156.87h2M423.29 159.16h2M423.29 161.78h2M427.08 162.93h2M427.08 166.2h2M430.87 166.2h2M430.87 169.47h2M434.66 166.2h2M434.66 169.47h2M438.45 168.17h2M438.45 172.42h2M442.24 168.98h2M442.24 173.24h2M446.03 171.44h2M446.03 175.7h2M449.82 171.44h2M449.82 175.7h2M453.61 170.29h2M453.61 175.21h2M457.4 171.11h2M457.4 176.03h2M461.19 176.03h2M461.19 180.94h2M464.98 180.12h2M464.98 185.03h2M468.77 182.57h2M468.77 187.49h2M472.56 184.21h2M472.56 189.12h2M476.35 185.03h2M476.35 189.94h2M480.14 186.18h2M480.14 191.09h2M483.93 187.16h2M483.93 192.07h2M487.72 188.47h2M487.72 194.04h2M491.51 187.98h2M491.51 193.55h2M495.3 189.12h2M495.3 194.69h2M499.09 189.12h2M499.09 194.69h2M502.88 188.8h2M502.88 194.37h2M506.67 189.62h2M506.67 195.18h2M510.46 191.25h2M510.46 196.82h2M514.25 192.07h2M514.25 197.64h2" fill="none" stroke="#000" stroke-width="0.6"/>
<polyline points="420.5,156.38 424.29,156.87 428.08,157.19 431.87,158.83 435.66,159.32 439.45,160.96 443.24,160.47 447.03,160.47 450.82,159.65 454.61,158.5 458.4,159.16 462.19,159.16 465.98,159.16 469.77,158.5 473.56,158.5 477.35,158.01 481.14,156.87 484.93,158.01 488.72,158.01 492.51,157.52 496.3,158.01 500.09,157.52 503.88,157.52 507.67,157.52 511.46,158.01 515.25,159.65" fill="none" stroke="#000" stroke-width="0.55"/>
<polyline points="420.5,156.38 424.29,160.47 428.08,164.56 431.87,167.84 435.66,167.84 439.45,170.29 443.24,171.11 447.03,173.57 450.82,173.57 454.61,172.75 458.4,173.57 462.19,178.48 465.98,182.57 469.77,185.03 473.56,186.67 477.35,187.49 481.14,188.63 484.93,189.62 488.72,191.25 492.51,190.76 496.3,191.91 500.09,191.91 503.88,191.58 507.67,192.4 511.46,194.04 515.25,194.86" fill="none" stroke="#000" stroke-width="0.55"/>
<circle cx="420.5" cy="156.38" r="1.08"/><circle cx="424.29" cy="156.87" r="1.08"/><circle cx="428.08" cy="157.19" r="1.08"/><circle cx="431.87" cy="158.83" r="1.08"/><circle cx="435.66" cy="159.32" r="1.08"/><circle cx="439.45" cy="160.96" r="1.08"/><circle cx="443.24" cy="160.47" r="1.08"/><circle cx="447.03" cy="160.47" r="1.08"/><circle cx="450.82" cy="159.65" r="1.08"/><circle cx="454.61" cy="158.5" r="1.08"/><circle cx="458.4" cy="159.16" r="1.08"/><circle cx="462.19" cy="159.16" r="1.08"/><circle cx="465.98" cy="159.16" r="1.08"/><circle cx="469.77" cy="158.5" r="1.08"/><circle cx="473.56" cy="158.5" r="1.08"/><circle cx="477.35" cy="158.01" r="1.08"/><circle cx="481.14" cy="156.87" r="1.08"/><circle cx="484.93" cy="158.01" r="1.08"/><circle cx="488.72" cy="158.01" r="1.08"/><circle cx="492.51" cy="157.52" r="1.08"/><circle cx="496.3" cy="158.01" r="1.08"/><circle cx="500.09" cy="157.52" r="1.08"/><circle cx="503.88" cy="157.52" r="1.08"/><circle cx="507.67" cy="157.52" r="1.08"/><circle cx="511.46" cy="158.01" r="1.08"/><circle cx="515.25" cy="159.65" r="1.08"/><rect x="419.43" y="155.3" width="2.15" height="2.15"/><rect x="423.22" y="159.39" width="2.15" height="2.15"/><rect x="427" y="163.49" width="2.15" height="2.15"/><rect x="430.8" y="166.76" width="2.15" height="2.15"/><rect x="434.59" y="166.76" width="2.15" height="2.15"/><rect x="438.38" y="169.22" width="2.15" height="2.15"/><rect x="442.17" y="170.04" width="2.15" height="2.15"/><rect x="445.95" y="172.49" width="2.15" height="2.15"/><rect x="449.75" y="172.49" width="2.15" height="2.15"/><rect x="453.54" y="171.68" width="2.15" height="2.15"/><rect x="457.32" y="172.49" width="2.15" height="2.15"/><rect x="461.12" y="177.41" width="2.15" height="2.15"/><rect x="464.91" y="181.5" width="2.15" height="2.15"/><rect x="468.69" y="183.96" width="2.15" height="2.15"/><rect x="472.49" y="185.59" width="2.15" height="2.15"/><rect x="476.28" y="186.41" width="2.15" height="2.15"/><rect x="480.06" y="187.56" width="2.15" height="2.15"/><rect x="483.86" y="188.54" width="2.15" height="2.15"/><rect x="487.65" y="190.18" width="2.15" height="2.15"/><rect x="491.44" y="189.69" width="2.15" height="2.15"/><rect x="495.23" y="190.83" width="2.15" height="2.15"/><rect x="499.02" y="190.83" width="2.15" height="2.15"/><rect x="502.81" y="190.51" width="2.15" height="2.15"/><rect x="506.6" y="191.33" width="2.15" height="2.15"/><rect x="510.39" y="192.96" width="2.15" height="2.15"/><rect x="514.17" y="193.78" width="2.15" height="2.15"/>
<path d="M458.5 149.2V154.8" stroke="#000" stroke-width="0.8" fill="none"/>
<path d="M457.3 153.5h2.4l-1.2 2.8z"/>
<path d="M440.7 146.3H515.4M440.7 145v2.6M515.4 145v2.6" stroke="#000" stroke-width="0.7" fill="none"/>
<text x="477.75" y="146.87" font-size="8.6" letter-spacing="0.5" text-anchor="middle">***</text>
</g>
<g id="panel-L">
<text x="397" y="236" font-size="14.5">L</text>
<path d="M420.2 240.4V305.4H519.24M420.2 305.4h-1.3M420.2 283.73h-1.3M420.2 262.07h-1.3M420.2 240.4h-1.3M420.2 305.4v1.2M435.32 305.4v1.2M450.44 305.4v1.2M465.56 305.4v1.2M480.68 305.4v1.2M495.8 305.4v1.2M510.92 305.4v1.2" fill="none" stroke="#222" stroke-width="0.4"/>
<g class="t" font-size="6">
<text x="418.95" y="307.45" text-anchor="end">0</text>
<text x="418.95" y="285.78" text-anchor="end">50</text>
<text x="418.95" y="264.12" text-anchor="end">100</text>
<text x="418.95" y="242.45" text-anchor="end">150</text>
<text x="420.2" y="312.5" text-anchor="middle">0</text>
<text x="435.32" y="312.5" text-anchor="middle">4</text>
<text x="450.44" y="312.5" text-anchor="middle">8</text>
<text x="465.56" y="312.5" text-anchor="middle">12</text>
<text x="480.68" y="312.5" text-anchor="middle">16</text>
<text x="495.8" y="312.5" text-anchor="middle">20</text>
<text x="510.92" y="312.5" text-anchor="middle">24</text>
</g>
<text x="469.25" y="320.4" font-size="6.05" text-anchor="middle">Days of injection</text>
<text transform="translate(406.1 270.3) rotate(-90)" font-size="6.05" text-anchor="middle">Cumulative FI (g)</text>
<path d="M423.98 303.88V304.32M427.76 299.98V300.85M431.54 298.05V298.97M435.32 295.77V296.75M439.1 293.7V294.74M442.88 291.42V292.51M446.66 289.06V290.21M450.44 286.71V287.91M454.22 284.35V285.61M458 281.99V283.31M461.78 280.07V281.44M465.56 278.14V279.57M469.34 276.22V277.71M473.12 274.29V275.84M476.9 272.1V273.7M480.68 269.9V271.56M484.46 267.71V269.42M488.24 265.51V267.29M492.02 263.32V265.15M495.8 261.12V263.01M499.58 258.93V260.87M503.36 256.73V258.73M507.14 254.54V256.59M510.92 252.34V254.46M514.7 250.15V252.32M423.98 303.77V304.42M427.76 299.98V301.28M431.54 299.27V300.95M435.32 297.7V299.76M439.1 296.03V298.47M442.88 294.02V296.84M446.66 292.1V295.3M450.44 290.18V293.75M454.22 288.26V292.21M458 286.33V290.67M461.78 284.92V289.48M465.56 283.5V288.3M469.34 282.09V287.11M473.12 280.67V285.93M476.9 279.14V284.63M480.68 277.6V283.32M484.46 276.07V282.02M488.24 274.54V280.72M492.02 273V279.42M495.8 271.47V278.11M499.58 269.93V276.81M503.36 268.4V275.51M507.14 266.87V274.21M510.92 265.33V272.9M514.7 263.8V271.6" fill="none" stroke="#000" stroke-width="0.42"/>
<path d="M422.98 303.88h2M422.98 304.32h2M426.76 299.98h2M426.76 300.85h2M430.54 298.05h2M430.54 298.97h2M434.32 295.77h2M434.32 296.75h2M438.1 293.7h2M438.1 294.74h2M441.88 291.42h2M441.88 292.51h2M445.66 289.06h2M445.66 290.21h2M449.44 286.71h2M449.44 287.91h2M453.22 284.35h2M453.22 285.61h2M457 281.99h2M457 283.31h2M460.78 280.07h2M460.78 281.44h2M464.56 278.14h2M464.56 279.57h2M468.34 276.22h2M468.34 277.71h2M472.12 274.29h2M472.12 275.84h2M475.9 272.1h2M475.9 273.7h2M479.68 269.9h2M479.68 271.56h2M483.46 267.71h2M483.46 269.42h2M487.24 265.51h2M487.24 267.29h2M491.02 263.32h2M491.02 265.15h2M494.8 261.12h2M494.8 263.01h2M498.58 258.93h2M498.58 260.87h2M502.36 256.73h2M502.36 258.73h2M506.14 254.54h2M506.14 256.59h2M509.92 252.34h2M509.92 254.46h2M513.7 250.15h2M513.7 252.32h2M422.98 303.77h2M422.98 304.42h2M426.76 299.98h2M426.76 301.28h2M430.54 299.27h2M430.54 300.95h2M434.32 297.7h2M434.32 299.76h2M438.1 296.03h2M438.1 298.47h2M441.88 294.02h2M441.88 296.84h2M445.66 292.1h2M445.66 295.3h2M449.44 290.18h2M449.44 293.75h2M453.22 288.26h2M453.22 292.21h2M457 286.33h2M457 290.67h2M460.78 284.92h2M460.78 289.48h2M464.56 283.5h2M464.56 288.3h2M468.34 282.09h2M468.34 287.11h2M472.12 280.67h2M472.12 285.93h2M475.9 279.14h2M475.9 284.63h2M479.68 277.6h2M479.68 283.32h2M483.46 276.07h2M483.46 282.02h2M487.24 274.54h2M487.24 280.72h2M491.02 273h2M491.02 279.42h2M494.8 271.47h2M494.8 278.11h2M498.58 269.93h2M498.58 276.81h2M502.36 268.4h2M502.36 275.51h2M506.14 266.87h2M506.14 274.21h2M509.92 265.33h2M509.92 272.9h2M513.7 263.8h2M513.7 271.6h2" fill="none" stroke="#000" stroke-width="0.6"/>
<polyline points="420.2,305.4 423.98,304.1 427.76,300.42 431.54,298.51 435.32,296.26 439.1,294.22 442.88,291.97 446.66,289.64 450.44,287.31 454.22,284.98 458,282.65 461.78,280.75 465.56,278.86 469.34,276.96 473.12,275.07 476.9,272.9 480.68,270.73 484.46,268.57 488.24,266.4 492.02,264.23 495.8,262.07 499.58,259.9 503.36,257.73 507.14,255.57 510.92,253.4 514.7,251.23" fill="none" stroke="#000" stroke-width="0.55"/>
<polyline points="420.2,305.4 423.98,304.1 427.76,300.63 431.54,300.11 435.32,298.73 439.1,297.25 442.88,295.43 446.66,293.7 450.44,291.97 454.22,290.23 458,288.5 461.78,287.2 465.56,285.9 469.34,284.6 473.12,283.3 476.9,281.88 480.68,280.46 484.46,279.05 488.24,277.63 492.02,276.21 495.8,274.79 499.58,273.37 503.36,271.95 507.14,270.54 510.92,269.12 514.7,267.7" fill="none" stroke="#000" stroke-width="0.55"/>
<circle cx="420.2" cy="305.4" r="1.08"/><circle cx="423.98" cy="304.1" r="1.08"/><circle cx="427.76" cy="300.42" r="1.08"/><circle cx="431.54" cy="298.51" r="1.08"/><circle cx="435.32" cy="296.26" r="1.08"/><circle cx="439.1" cy="294.22" r="1.08"/><circle cx="442.88" cy="291.97" r="1.08"/><circle cx="446.66" cy="289.64" r="1.08"/><circle cx="450.44" cy="287.31" r="1.08"/><circle cx="454.22" cy="284.98" r="1.08"/><circle cx="458" cy="282.65" r="1.08"/><circle cx="461.78" cy="280.75" r="1.08"/><circle cx="465.56" cy="278.86" r="1.08"/><circle cx="469.34" cy="276.96" r="1.08"/><circle cx="473.12" cy="275.07" r="1.08"/><circle cx="476.9" cy="272.9" r="1.08"/><circle cx="480.68" cy="270.73" r="1.08"/><circle cx="484.46" cy="268.57" r="1.08"/><circle cx="488.24" cy="266.4" r="1.08"/><circle cx="492.02" cy="264.23" r="1.08"/><circle cx="495.8" cy="262.07" r="1.08"/><circle cx="499.58" cy="259.9" r="1.08"/><circle cx="503.36" cy="257.73" r="1.08"/><circle cx="507.14" cy="255.57" r="1.08"/><circle cx="510.92" cy="253.4" r="1.08"/><circle cx="514.7" cy="251.23" r="1.08"/><rect x="419.12" y="304.32" width="2.15" height="2.15"/><rect x="422.9" y="303.02" width="2.15" height="2.15"/><rect x="426.69" y="299.56" width="2.15" height="2.15"/><rect x="430.46" y="299.04" width="2.15" height="2.15"/><rect x="434.25" y="297.65" width="2.15" height="2.15"/><rect x="438.02" y="296.18" width="2.15" height="2.15"/><rect x="441.81" y="294.36" width="2.15" height="2.15"/><rect x="445.58" y="292.62" width="2.15" height="2.15"/><rect x="449.37" y="290.89" width="2.15" height="2.15"/><rect x="453.14" y="289.16" width="2.15" height="2.15"/><rect x="456.93" y="287.43" width="2.15" height="2.15"/><rect x="460.7" y="286.12" width="2.15" height="2.15"/><rect x="464.49" y="284.82" width="2.15" height="2.15"/><rect x="468.26" y="283.52" width="2.15" height="2.15"/><rect x="472.05" y="282.23" width="2.15" height="2.15"/><rect x="475.82" y="280.81" width="2.15" height="2.15"/><rect x="479.61" y="279.39" width="2.15" height="2.15"/><rect x="483.38" y="277.97" width="2.15" height="2.15"/><rect x="487.17" y="276.55" width="2.15" height="2.15"/><rect x="490.94" y="275.13" width="2.15" height="2.15"/><rect x="494.72" y="273.72" width="2.15" height="2.15"/><rect x="498.5" y="272.3" width="2.15" height="2.15"/><rect x="502.29" y="270.88" width="2.15" height="2.15"/><rect x="506.06" y="269.46" width="2.15" height="2.15"/><rect x="509.84" y="268.04" width="2.15" height="2.15"/><rect x="513.62" y="266.62" width="2.15" height="2.15"/>
<path d="M457.8 272.8V278.7" stroke="#000" stroke-width="0.8" fill="none"/>
<path d="M456.6 277.4h2.4l-1.2 2.8z"/>
<g transform="translate(475 265.75) rotate(-29.59)"><path d="M0 0H44.56M0 -1.3v2.6M44.56 -1.3v2.6" stroke="#000" stroke-width="0.65" fill="none"/></g>
<text transform="translate(495.71 252.89) rotate(-29.59)" font-size="8.6" letter-spacing="0.9" text-anchor="middle">***</text>
</g>
</svg>
</body></html>
